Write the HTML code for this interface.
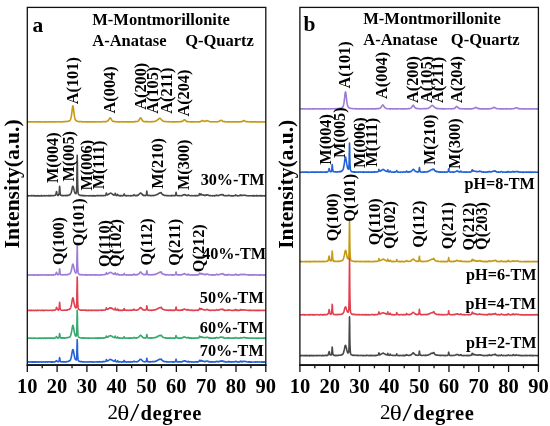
<!DOCTYPE html><html><head><meta charset="utf-8"><style>html,body{margin:0;padding:0;background:#fff;width:550px;height:426px;overflow:hidden}svg{display:block}text{font-family:"Liberation Serif", "Times New Roman", serif;font-weight:bold;fill:#000}</style></head><body>
<svg width="550" height="426" viewBox="0 0 550 426">
<rect width="550" height="426" fill="#fff"/>
<path d="M27.3,121.8 27.6,121.8 27.9,121.9 28.2,121.8 28.5,121.9 28.8,121.9 29.1,121.8 29.4,121.9 29.7,121.8 30.0,121.9 30.3,121.8 30.6,121.8 30.9,121.9 31.2,122.0 31.5,121.8 31.8,121.8 32.1,121.9 32.4,122.0 32.7,121.9 33.0,121.9 33.3,122.0 33.6,121.8 33.9,122.0 34.2,121.8 34.5,121.8 34.8,121.8 35.1,121.8 35.3,122.0 35.6,121.8 35.9,121.9 36.2,121.9 36.5,121.8 36.8,121.9 37.1,121.8 37.4,121.8 37.7,121.8 38.0,121.9 38.3,121.9 38.6,121.8 38.9,121.9 39.2,121.9 39.5,121.8 39.8,122.0 40.1,121.9 40.4,121.8 40.7,121.9 41.0,121.9 41.3,122.0 41.6,122.0 41.9,121.8 42.2,122.0 42.5,121.8 42.8,121.9 43.1,122.0 43.4,121.8 43.7,121.9 44.0,121.7 44.3,121.9 44.6,122.0 44.9,121.9 45.2,122.0 45.5,121.8 45.8,121.9 46.1,121.9 46.4,121.9 46.7,121.9 47.0,122.0 47.3,122.0 47.6,121.9 47.9,121.9 48.2,121.7 48.5,121.9 48.8,121.9 49.1,122.0 49.4,122.0 49.7,121.8 50.0,121.8 50.3,121.9 50.6,121.7 50.9,121.9 51.2,121.8 51.4,121.8 51.7,121.7 52.0,121.9 52.3,121.8 52.6,121.8 52.9,121.8 53.2,122.0 53.5,121.7 53.8,121.8 54.1,121.9 54.4,122.0 54.7,122.0 55.0,122.0 55.3,121.8 55.6,121.8 55.9,121.8 56.2,122.0 56.5,122.0 56.8,121.7 57.1,121.7 57.4,121.8 57.7,121.8 58.0,121.8 58.3,121.9 58.6,121.8 58.9,121.7 59.2,121.8 59.5,121.8 59.8,121.8 60.1,121.9 60.4,121.9 60.7,121.8 61.0,121.8 61.3,121.8 61.6,121.7 61.9,121.9 62.2,121.9 62.5,121.9 62.8,121.9 63.1,121.7 63.4,121.7 63.7,121.6 64.0,121.8 64.3,121.6 64.6,121.6 64.9,121.6 65.2,121.6 65.5,121.6 65.8,121.5 66.1,121.5 66.4,121.5 66.7,121.4 67.0,121.5 67.2,121.3 67.5,121.5 67.8,121.4 68.1,121.2 68.4,121.2 68.7,121.1 69.0,121.0 69.3,120.8 69.6,120.8 69.9,120.6 70.2,120.1 70.5,119.5 70.8,118.6 71.1,117.4 71.4,115.9 71.7,113.7 72.0,111.4 72.3,108.6 72.6,106.4 72.9,105.8 73.2,106.5 73.5,108.6 73.8,111.3 74.1,113.7 74.4,115.9 74.7,117.7 75.0,118.8 75.3,119.6 75.6,120.0 75.9,120.4 76.2,120.6 76.5,121.0 76.8,121.1 77.1,121.2 77.4,121.2 77.7,121.2 78.0,121.5 78.3,121.6 78.6,121.6 78.9,121.6 79.2,121.6 79.5,121.7 79.8,121.5 80.1,121.6 80.4,121.6 80.7,121.5 81.0,121.5 81.3,121.6 81.6,121.6 81.9,121.8 82.2,121.9 82.5,121.7 82.8,121.9 83.0,121.9 83.3,121.9 83.6,121.7 83.9,121.7 84.2,121.7 84.5,121.7 84.8,121.7 85.1,121.8 85.4,121.9 85.7,121.9 86.0,121.8 86.3,121.9 86.6,121.9 86.9,121.7 87.2,121.9 87.5,121.9 87.8,121.9 88.1,121.9 88.4,121.8 88.7,121.7 89.0,121.9 89.3,121.8 89.6,121.9 89.9,122.0 90.2,121.8 90.5,121.8 90.8,122.0 91.1,121.9 91.4,121.7 91.7,121.7 92.0,121.7 92.3,122.0 92.6,121.9 92.9,121.7 93.2,121.9 93.5,122.0 93.8,121.9 94.1,121.8 94.4,121.9 94.7,121.7 95.0,121.7 95.3,122.0 95.6,121.9 95.9,121.9 96.2,122.0 96.5,121.8 96.8,122.0 97.1,121.9 97.4,121.8 97.7,121.8 98.0,121.8 98.3,121.8 98.6,121.9 98.8,121.8 99.1,121.8 99.4,121.7 99.7,121.9 100.0,121.8 100.3,121.8 100.6,121.8 100.9,121.9 101.2,121.8 101.5,121.9 101.8,121.8 102.1,121.8 102.4,121.8 102.7,121.6 103.0,121.8 103.3,121.7 103.6,121.6 103.9,121.8 104.2,121.6 104.5,121.7 104.8,121.8 105.1,121.7 105.4,121.6 105.7,121.6 106.0,121.6 106.3,121.6 106.6,121.4 106.9,121.4 107.2,121.2 107.5,121.1 107.8,121.0 108.1,120.7 108.4,120.3 108.7,120.0 109.0,119.5 109.3,118.9 109.6,118.4 109.9,118.0 110.2,117.9 110.5,118.1 110.8,118.4 111.1,118.9 111.4,119.4 111.7,120.0 112.0,120.4 112.3,120.8 112.6,121.1 112.9,121.1 113.2,121.3 113.5,121.5 113.8,121.6 114.1,121.4 114.4,121.5 114.7,121.6 114.9,121.5 115.2,121.6 115.5,121.6 115.8,121.8 116.1,121.8 116.4,121.9 116.7,121.7 117.0,121.8 117.3,121.8 117.6,121.7 117.9,121.9 118.2,121.9 118.5,121.7 118.8,121.9 119.1,121.8 119.4,121.8 119.7,122.0 120.0,121.9 120.3,121.7 120.6,121.8 120.9,121.8 121.2,121.8 121.5,121.7 121.8,121.8 122.1,121.9 122.4,121.7 122.7,121.9 123.0,121.8 123.3,121.7 123.6,121.8 123.9,121.9 124.2,121.8 124.5,121.7 124.8,122.0 125.1,121.9 125.4,122.0 125.7,121.7 126.0,121.8 126.3,121.7 126.6,121.9 126.9,121.8 127.2,121.7 127.5,121.8 127.8,122.0 128.1,121.9 128.4,121.8 128.7,121.7 129.0,122.0 129.3,121.9 129.6,121.9 129.9,121.7 130.2,121.7 130.5,121.9 130.7,121.8 131.0,121.7 131.3,122.0 131.6,121.9 131.9,121.9 132.2,121.7 132.5,121.9 132.8,121.7 133.1,121.9 133.4,121.8 133.7,121.7 134.0,121.8 134.3,121.9 134.6,121.7 134.9,121.6 135.2,121.7 135.5,121.6 135.8,121.6 136.1,121.6 136.4,121.5 136.7,121.5 137.0,121.5 137.3,121.4 137.6,121.5 137.9,121.2 138.2,121.1 138.5,120.8 138.8,120.5 139.1,120.0 139.4,119.5 139.7,118.9 140.0,118.5 140.3,118.0 140.6,117.8 140.9,118.0 141.2,118.6 141.5,118.9 141.8,119.7 142.1,120.1 142.4,120.5 142.7,121.0 143.0,121.1 143.3,121.3 143.6,121.4 143.9,121.6 144.2,121.5 144.5,121.7 144.8,121.7 145.1,121.7 145.4,121.6 145.7,121.6 146.0,121.6 146.3,121.6 146.6,121.6 146.8,121.8 147.1,121.7 147.4,121.6 147.7,121.6 148.0,121.8 148.3,121.9 148.6,121.8 148.9,121.7 149.2,121.7 149.5,121.7 149.8,121.7 150.1,121.6 150.4,121.7 150.7,121.7 151.0,121.9 151.3,121.9 151.6,121.7 151.9,121.6 152.2,121.8 152.5,121.6 152.8,121.6 153.1,121.5 153.4,121.6 153.7,121.6 154.0,121.6 154.3,121.4 154.6,121.5 154.9,121.3 155.2,121.3 155.5,121.1 155.8,121.1 156.1,120.9 156.4,120.7 156.7,120.6 157.0,120.4 157.3,120.2 157.6,119.9 157.9,119.7 158.2,119.4 158.5,119.1 158.8,118.8 159.1,118.5 159.4,118.3 159.7,118.4 160.0,118.2 160.3,118.6 160.6,118.8 160.9,118.9 161.2,119.4 161.5,119.8 161.8,120.0 162.1,120.3 162.4,120.6 162.6,120.6 162.9,120.9 163.2,121.0 163.5,121.3 163.8,121.4 164.1,121.5 164.4,121.5 164.7,121.6 165.0,121.6 165.3,121.6 165.6,121.5 165.9,121.5 166.2,121.5 166.5,121.6 166.8,121.6 167.1,121.8 167.4,121.7 167.7,121.8 168.0,121.8 168.3,121.8 168.6,121.7 168.9,121.6 169.2,121.9 169.5,121.8 169.8,121.8 170.1,121.8 170.4,121.8 170.7,121.7 171.0,121.9 171.3,121.7 171.6,121.7 171.9,121.7 172.2,121.9 172.5,121.7 172.8,121.9 173.1,122.0 173.4,121.8 173.7,121.8 174.0,121.8 174.3,121.9 174.6,121.9 174.9,121.9 175.2,121.9 175.5,121.7 175.8,121.7 176.1,121.7 176.4,121.9 176.7,121.8 177.0,121.8 177.3,121.7 177.6,121.7 177.9,121.7 178.2,121.9 178.4,121.9 178.7,121.8 179.0,121.7 179.3,121.8 179.6,121.8 179.9,121.7 180.2,121.6 180.5,121.8 180.8,121.6 181.1,121.8 181.4,121.7 181.7,121.4 182.0,121.4 182.3,121.4 182.6,121.3 182.9,120.9 183.2,120.6 183.5,120.2 183.8,120.1 184.1,119.7 184.4,119.7 184.7,119.7 185.0,120.0 185.3,120.4 185.6,120.5 185.9,121.0 186.2,121.1 186.5,121.4 186.8,121.5 187.1,121.5 187.4,121.7 187.7,121.7 188.0,121.6 188.3,121.6 188.6,121.7 188.9,121.7 189.2,121.7 189.5,121.7 189.8,121.7 190.1,121.7 190.4,121.9 190.7,121.7 191.0,121.9 191.3,121.9 191.6,121.7 191.9,122.0 192.2,121.9 192.5,121.9 192.8,121.8 193.1,121.8 193.4,121.8 193.7,122.0 194.0,121.9 194.2,121.8 194.5,121.8 194.8,121.8 195.1,121.7 195.4,121.7 195.7,121.9 196.0,121.8 196.3,122.0 196.6,121.7 196.9,121.7 197.2,121.8 197.5,121.7 197.8,121.8 198.1,121.9 198.4,121.9 198.7,121.9 199.0,121.8 199.3,121.9 199.6,121.8 199.9,121.7 200.2,121.7 200.5,121.4 200.8,121.5 201.1,121.3 201.4,121.2 201.7,121.0 202.0,120.7 202.3,120.5 202.6,120.7 202.9,120.5 203.2,120.8 203.5,120.9 203.8,121.0 204.1,121.3 204.4,121.4 204.7,121.3 205.0,121.4 205.3,121.2 205.6,121.2 205.9,121.1 206.2,120.8 206.5,120.7 206.8,120.6 207.1,120.7 207.4,120.7 207.7,120.7 208.0,121.1 208.3,121.3 208.6,121.3 208.9,121.3 209.2,121.5 209.5,121.5 209.8,121.6 210.1,121.6 210.3,121.7 210.6,121.7 210.9,121.8 211.2,121.9 211.5,121.9 211.8,121.8 212.1,121.8 212.4,121.8 212.7,121.8 213.0,121.8 213.3,121.7 213.6,121.7 213.9,122.0 214.2,121.7 214.5,121.8 214.8,121.8 215.1,121.9 215.4,121.7 215.7,121.7 216.0,121.7 216.3,121.8 216.6,121.8 216.9,121.9 217.2,121.8 217.5,121.8 217.8,121.5 218.1,121.5 218.4,121.6 218.7,121.6 219.0,121.4 219.3,121.3 219.6,120.9 219.9,120.8 220.2,120.8 220.5,120.6 220.8,120.4 221.1,120.4 221.4,120.3 221.7,120.4 222.0,120.6 222.3,120.9 222.6,121.1 222.9,121.4 223.2,121.5 223.5,121.5 223.8,121.7 224.1,121.6 224.4,121.7 224.7,121.6 225.0,121.8 225.3,121.7 225.6,121.9 225.9,121.8 226.1,121.7 226.4,121.7 226.7,121.7 227.0,121.9 227.3,121.9 227.6,121.7 227.9,121.7 228.2,121.9 228.5,121.9 228.8,121.8 229.1,121.8 229.4,121.9 229.7,121.7 230.0,121.8 230.3,121.8 230.6,122.0 230.9,121.9 231.2,122.0 231.5,121.9 231.8,121.8 232.1,121.8 232.4,122.0 232.7,121.9 233.0,121.8 233.3,121.7 233.6,121.9 233.9,121.9 234.2,121.8 234.5,121.8 234.8,121.9 235.1,122.0 235.4,121.8 235.7,121.7 236.0,121.8 236.3,121.8 236.6,121.9 236.9,121.8 237.2,121.9 237.5,121.9 237.8,121.8 238.1,121.8 238.4,122.0 238.7,121.8 239.0,121.9 239.3,121.7 239.6,121.7 239.9,121.9 240.2,121.7 240.5,121.9 240.8,121.7 241.1,121.6 241.4,121.6 241.7,121.6 242.0,121.6 242.2,121.6 242.5,121.2 242.8,121.1 243.1,120.9 243.4,121.0 243.7,120.6 244.0,120.6 244.3,120.6 244.6,120.8 244.9,121.1 245.2,121.3 245.5,121.4 245.8,121.6 246.1,121.7 246.4,121.6 246.7,121.6 247.0,121.8 247.3,121.8 247.6,121.6 247.9,121.8 248.2,121.8 248.5,121.8 248.8,121.8 249.1,121.7 249.4,121.7 249.7,121.8 250.0,121.8 250.3,122.0 250.6,121.7 250.9,122.0 251.2,121.8 251.5,121.8 251.8,122.0 252.1,122.0 252.4,121.9 252.7,121.7 253.0,121.9 253.3,121.8 253.6,122.0 253.9,121.8 254.2,121.8 254.5,122.0 254.8,121.7 255.1,121.9 255.4,122.0 255.7,122.0 256.0,121.7 256.3,121.7 256.6,121.8 256.9,122.0 257.2,121.8 257.5,122.0 257.8,122.0 258.0,121.8 258.3,121.8 258.6,122.0 258.9,121.9 259.2,121.8 259.5,122.0 259.8,121.8 260.1,121.8 260.4,121.7 260.7,122.0 261.0,122.0 261.3,121.9 261.6,122.0 261.9,121.7 262.2,121.8 262.5,121.9 262.8,122.0 263.1,122.0 263.4,121.9 263.7,121.8 264.0,121.9 264.3,121.9 264.6,122.0 264.9,121.8 265.2,122.0 265.5,122.0 265.8,122.0" fill="none" stroke="#c49a14" stroke-width="1.6" stroke-linejoin="round"/>
<path d="M27.3,195.7 27.6,196.0 27.9,195.6 28.2,195.9 28.5,195.6 28.8,195.7 29.1,196.0 29.4,195.7 29.7,195.8 30.0,195.8 30.3,195.8 30.6,195.8 30.9,195.7 31.2,195.9 31.5,195.6 31.8,195.7 32.1,195.6 32.4,195.7 32.7,195.8 33.0,195.9 33.3,195.7 33.6,195.6 33.9,195.7 34.2,196.0 34.5,195.6 34.8,195.8 35.1,195.7 35.3,195.9 35.6,195.7 35.9,195.9 36.2,195.8 36.5,195.8 36.8,195.9 37.1,195.8 37.4,195.6 37.7,195.6 38.0,196.0 38.3,195.8 38.6,195.7 38.9,196.0 39.2,195.8 39.5,195.9 39.8,195.9 40.1,195.7 40.4,195.7 40.7,195.9 41.0,195.6 41.3,195.9 41.6,195.6 41.9,195.9 42.2,195.9 42.5,196.0 42.8,195.9 43.1,195.8 43.4,195.7 43.7,195.6 44.0,195.8 44.3,195.8 44.6,195.6 44.9,195.9 45.2,195.8 45.5,195.9 45.8,195.7 46.1,195.7 46.4,195.6 46.7,195.7 47.0,195.7 47.3,195.7 47.6,195.7 47.9,195.9 48.2,195.9 48.5,195.6 48.8,195.7 49.1,195.6 49.4,195.8 49.7,195.9 50.0,195.6 50.3,195.9 50.6,195.7 50.9,195.5 51.2,195.8 51.4,195.7 51.7,195.6 52.0,195.7 52.3,195.6 52.6,195.7 52.9,195.7 53.2,195.7 53.5,195.7 53.8,195.6 54.1,195.5 54.4,195.4 54.7,195.4 55.0,195.5 55.3,195.2 55.6,195.0 55.9,194.0 56.0,193.8 56.2,192.8 56.3,192.3 56.5,191.5 56.8,192.3 56.8,192.5 57.0,193.7 57.1,194.1 57.4,194.7 57.7,195.3 58.0,195.1 58.3,195.4 58.6,195.0 58.9,194.7 59.2,192.4 59.3,191.1 59.5,188.0 59.5,187.8 59.6,186.2 59.8,187.5 59.8,188.1 60.0,190.9 60.1,192.5 60.4,194.7 60.7,195.2 61.0,195.4 61.3,195.3 61.6,195.4 61.9,195.6 62.2,195.6 62.5,195.4 62.8,195.6 63.1,195.7 63.4,195.7 63.7,195.6 64.0,195.6 64.3,195.6 64.6,195.5 64.9,195.5 65.2,195.6 65.5,195.4 65.8,195.6 66.1,195.6 66.4,195.6 66.7,195.3 67.0,195.4 67.2,195.4 67.5,195.3 67.8,195.6 68.1,195.4 68.4,195.3 68.7,195.3 69.0,195.0 69.3,194.9 69.6,194.9 69.9,194.8 70.2,194.4 70.5,193.7 70.8,193.4 71.1,192.7 71.4,191.7 71.7,190.5 72.0,189.2 72.3,187.5 72.6,186.5 72.9,186.2 73.2,186.7 73.5,187.5 73.8,189.0 74.1,190.3 74.4,191.4 74.7,192.3 75.0,193.2 75.3,193.5 75.6,193.6 75.9,193.7 76.2,193.0 76.5,191.5 76.8,184.6 76.9,175.3 77.1,162.5 77.2,155.2 77.4,162.7 77.5,175.5 77.7,184.7 78.0,192.1 78.3,193.7 78.6,194.5 78.9,194.8 79.2,194.9 79.5,195.1 79.8,195.2 80.1,195.3 80.4,195.5 80.7,195.3 81.0,195.3 81.3,195.6 81.6,195.4 81.9,195.5 82.2,195.4 82.5,195.7 82.8,195.5 83.0,195.5 83.3,195.8 83.6,195.6 83.9,195.6 84.2,195.8 84.5,195.6 84.8,195.6 85.1,195.9 85.4,195.8 85.7,195.8 86.0,195.6 86.3,195.8 86.6,195.7 86.9,195.8 87.2,195.7 87.5,195.8 87.8,195.8 88.1,195.7 88.4,195.8 88.7,195.8 89.0,195.9 89.3,195.9 89.6,195.8 89.9,195.6 90.2,195.8 90.5,195.8 90.8,195.6 91.1,195.7 91.4,195.9 91.7,195.9 92.0,195.9 92.3,195.6 92.6,195.8 92.9,195.9 93.2,195.8 93.5,195.7 93.8,195.5 94.1,195.9 94.4,195.9 94.7,195.8 95.0,195.7 95.3,195.9 95.6,195.9 95.9,195.8 96.2,195.8 96.5,195.7 96.8,195.6 97.1,195.7 97.4,195.6 97.7,195.7 98.0,195.6 98.3,195.8 98.6,195.6 98.8,195.6 99.1,195.6 99.4,195.7 99.7,195.7 100.0,195.8 100.3,195.5 100.6,195.6 100.9,195.6 101.2,195.5 101.5,195.8 101.8,195.5 102.1,195.5 102.4,195.7 102.7,195.7 103.0,195.7 103.3,195.6 103.6,195.5 103.9,195.7 104.2,195.6 104.5,195.5 104.8,195.5 105.1,195.6 105.4,195.5 105.7,195.3 106.0,194.1 106.2,193.4 106.3,193.0 106.5,193.3 106.6,194.2 106.9,194.6 107.2,195.0 107.5,194.8 107.8,194.7 108.1,194.4 108.4,194.4 108.7,194.1 109.0,194.0 109.3,193.8 109.6,193.5 109.9,193.5 110.2,193.2 110.5,193.1 110.8,193.3 111.1,193.3 111.4,193.4 111.7,193.7 112.0,193.8 112.3,193.9 112.6,194.4 112.9,194.5 113.2,194.8 113.5,194.8 113.8,195.1 114.1,194.9 114.4,194.9 114.7,195.0 114.9,194.4 115.1,193.9 115.2,193.4 115.4,193.6 115.5,194.4 115.8,195.0 116.1,195.3 116.4,195.6 116.7,195.4 117.0,195.5 117.3,195.0 117.6,194.3 117.9,195.1 118.2,195.3 118.5,195.4 118.8,195.6 119.1,195.5 119.4,195.8 119.7,195.6 120.0,195.7 120.3,195.9 120.6,195.5 120.9,195.9 121.2,195.5 121.5,195.7 121.8,195.7 122.1,195.9 122.4,195.6 122.7,195.8 123.0,195.7 123.3,195.6 123.6,195.3 123.9,194.7 124.0,194.2 124.2,193.9 124.3,194.2 124.5,194.9 124.8,195.4 125.1,195.7 125.4,195.5 125.7,195.5 126.0,195.8 126.3,195.9 126.6,195.6 126.9,195.5 127.2,195.6 127.5,195.7 127.8,195.7 128.1,195.7 128.4,195.6 128.7,195.8 129.0,195.8 129.3,195.8 129.6,195.8 129.9,195.8 130.2,195.6 130.5,195.8 130.7,195.6 131.0,195.9 131.3,195.7 131.6,195.7 131.9,195.7 132.2,195.7 132.5,195.6 132.8,195.7 133.1,195.7 133.4,195.4 133.7,195.1 134.0,194.7 134.3,195.0 134.6,195.4 134.9,195.6 135.2,195.7 135.5,195.5 135.8,195.4 136.1,195.7 136.4,195.4 136.7,195.6 137.0,195.6 137.3,195.3 137.6,195.4 137.9,195.1 138.2,195.2 138.5,194.8 138.8,194.5 139.1,194.2 139.4,194.1 139.7,193.5 140.0,193.2 140.3,193.2 140.6,193.0 140.9,193.1 141.2,193.3 141.5,193.7 141.8,193.8 142.1,194.5 142.4,194.6 142.7,195.0 143.0,195.0 143.3,195.4 143.6,195.1 143.9,195.6 144.2,195.3 144.5,195.5 144.8,195.5 145.1,195.7 145.4,195.6 145.7,195.6 146.0,195.5 146.3,194.9 146.6,193.2 146.7,191.7 146.8,191.1 147.0,192.1 147.1,193.4 147.4,194.9 147.7,195.4 148.0,195.5 148.3,195.4 148.6,195.6 148.9,195.5 149.2,195.4 149.5,195.4 149.8,195.6 150.1,195.7 150.4,195.5 150.7,195.6 151.0,195.7 151.3,195.5 151.6,195.6 151.9,195.6 152.2,195.5 152.5,195.4 152.8,195.6 153.1,195.6 153.4,195.4 153.7,195.6 154.0,195.5 154.3,195.5 154.6,195.4 154.9,195.3 155.2,195.3 155.5,195.0 155.8,195.1 156.1,194.7 156.4,194.7 156.7,194.6 157.0,194.6 157.3,194.4 157.6,194.3 157.9,194.1 158.2,193.9 158.5,193.6 158.8,193.4 159.1,193.2 159.4,193.1 159.7,193.2 160.0,193.2 160.3,193.0 160.6,192.9 160.9,192.6 161.2,192.6 161.5,193.1 161.8,193.6 162.1,194.2 162.4,194.4 162.6,194.5 162.9,194.7 163.2,195.1 163.5,194.9 163.8,195.0 164.1,195.2 164.4,195.4 164.7,195.5 165.0,195.4 165.3,195.5 165.6,195.3 165.9,195.5 166.2,195.7 166.5,195.6 166.8,195.6 167.1,195.6 167.4,195.6 167.7,195.6 168.0,195.8 168.3,195.8 168.6,195.5 168.9,195.8 169.2,195.8 169.5,195.7 169.8,195.7 170.1,195.6 170.4,195.7 170.7,195.7 171.0,195.7 171.3,195.5 171.6,195.9 171.9,195.6 172.2,195.7 172.5,195.6 172.8,195.7 173.1,195.5 173.4,195.6 173.7,195.6 174.0,195.6 174.3,195.7 174.6,195.5 174.9,195.6 175.2,195.6 175.5,195.3 175.8,194.2 175.9,193.1 176.1,192.3 176.2,192.9 176.4,194.1 176.7,195.4 177.0,195.5 177.3,195.7 177.6,195.7 177.9,195.7 178.2,195.7 178.4,195.6 178.7,195.7 179.0,195.7 179.3,195.8 179.6,195.5 179.9,195.5 180.2,195.8 180.5,195.7 180.8,195.7 181.1,195.8 181.4,195.7 181.7,195.6 182.0,195.7 182.3,195.4 182.6,195.3 182.9,195.0 183.2,194.9 183.5,195.0 183.8,194.9 184.1,194.5 184.4,194.6 184.7,194.7 185.0,194.7 185.3,194.8 185.6,195.2 185.9,195.2 186.2,195.4 186.5,195.4 186.8,195.4 187.1,195.6 187.4,195.4 187.7,195.4 188.0,195.1 188.3,194.9 188.6,195.0 188.9,195.3 189.2,195.4 189.5,195.5 189.8,195.5 190.1,195.7 190.4,195.7 190.7,195.8 191.0,195.7 191.3,195.8 191.6,195.5 191.9,195.7 192.2,195.6 192.5,195.7 192.8,195.8 193.1,195.8 193.4,195.7 193.7,195.7 194.0,195.7 194.2,195.6 194.5,195.6 194.8,195.7 195.1,195.8 195.4,195.6 195.7,195.9 196.0,195.5 196.3,195.6 196.6,195.7 196.9,195.6 197.2,195.7 197.5,195.7 197.8,195.7 198.1,195.7 198.4,195.5 198.7,195.5 199.0,195.0 199.2,194.5 199.3,194.0 199.4,193.9 199.6,193.6 199.8,193.8 199.9,194.1 200.1,194.5 200.2,194.9 200.5,194.7 200.8,194.6 201.1,193.9 201.4,194.5 201.7,194.9 202.0,194.8 202.3,195.0 202.6,194.8 202.9,194.9 203.2,195.1 203.5,195.2 203.8,195.1 204.1,195.1 204.4,195.5 204.7,195.4 205.0,195.5 205.3,195.2 205.6,195.4 205.9,195.0 206.2,194.9 206.5,194.9 206.8,195.1 207.1,194.9 207.4,194.9 207.7,194.9 208.0,195.0 208.3,195.2 208.6,195.3 208.9,195.4 209.2,195.6 209.5,195.5 209.8,195.8 210.1,195.8 210.3,195.7 210.6,195.5 210.9,195.7 211.2,195.7 211.5,195.8 211.8,195.7 212.1,195.8 212.4,195.9 212.7,195.8 213.0,195.5 213.3,195.8 213.6,195.8 213.9,195.7 214.2,195.9 214.5,195.5 214.8,195.5 215.1,195.8 215.4,195.5 215.7,195.5 216.0,195.6 216.3,195.1 216.6,195.1 216.9,195.3 217.2,195.5 217.5,195.5 217.8,195.4 218.1,195.7 218.4,195.6 218.7,195.6 219.0,195.4 219.3,195.2 219.6,195.2 219.9,195.0 220.2,194.8 220.5,194.7 220.8,194.7 221.1,194.6 221.4,194.7 221.7,195.0 222.0,195.0 222.3,195.0 222.6,194.6 222.9,194.6 223.2,194.7 223.5,195.2 223.8,195.6 224.1,195.6 224.4,195.8 224.7,195.7 225.0,195.6 225.3,195.5 225.6,195.6 225.9,195.8 226.1,195.7 226.4,195.8 226.7,195.8 227.0,195.6 227.3,195.6 227.6,195.8 227.9,195.7 228.2,195.4 228.5,195.4 228.8,195.2 229.1,195.4 229.4,195.4 229.7,195.6 230.0,195.8 230.3,195.8 230.6,195.7 230.9,195.9 231.2,195.7 231.5,195.9 231.8,195.6 232.1,195.7 232.4,195.9 232.7,195.8 233.0,195.9 233.3,195.9 233.6,195.8 233.9,195.8 234.2,195.8 234.5,195.7 234.8,195.8 235.1,195.6 235.4,194.9 235.7,194.8 236.0,195.3 236.3,195.3 236.6,195.4 236.9,195.7 237.2,195.8 237.5,195.9 237.8,195.9 238.1,195.8 238.4,195.8 238.7,195.7 239.0,195.8 239.3,195.7 239.6,195.5 239.9,195.5 240.2,195.0 240.5,194.8 240.8,195.0 241.1,195.6 241.4,195.4 241.7,195.5 242.0,195.5 242.2,195.3 242.5,195.4 242.8,195.3 243.1,195.4 243.4,195.3 243.7,195.2 244.0,195.3 244.3,195.2 244.6,195.3 244.9,195.1 245.2,195.3 245.5,195.4 245.8,195.6 246.1,195.5 246.4,195.5 246.7,195.7 247.0,195.8 247.3,195.8 247.6,195.8 247.9,195.8 248.2,195.9 248.5,195.8 248.8,195.7 249.1,195.7 249.4,195.7 249.7,195.7 250.0,195.8 250.3,195.9 250.6,195.7 250.9,195.7 251.2,195.7 251.5,195.8 251.8,195.6 252.1,195.8 252.4,195.9 252.7,195.9 253.0,195.7 253.3,195.6 253.6,195.9 253.9,195.9 254.2,195.7 254.5,195.6 254.8,195.9 255.1,195.7 255.4,195.8 255.7,195.8 256.0,195.9 256.3,195.6 256.6,195.7 256.9,195.6 257.2,195.9 257.5,195.6 257.8,195.9 258.0,195.8 258.3,195.8 258.6,195.7 258.9,195.9 259.2,195.6 259.5,195.8 259.8,195.9 260.1,195.9 260.4,195.6 260.7,195.6 261.0,195.7 261.3,195.9 261.6,195.6 261.9,196.0 262.2,195.9 262.5,195.8 262.8,195.9 263.1,195.8 263.4,195.7 263.7,195.8 264.0,195.6 264.3,195.8 264.6,196.0 264.9,195.8 265.2,195.9 265.5,195.7 265.8,195.9" fill="none" stroke="#484848" stroke-width="1.6" stroke-linejoin="round"/>
<path d="M27.3,275.0 27.6,274.9 27.9,274.8 28.2,275.1 28.5,274.8 28.8,275.0 29.1,275.1 29.4,274.8 29.7,275.0 30.0,275.0 30.3,274.8 30.6,274.9 30.9,275.1 31.2,275.0 31.5,275.1 31.8,274.9 32.1,274.9 32.4,274.8 32.7,275.0 33.0,275.2 33.3,275.0 33.6,275.1 33.9,274.9 34.2,275.1 34.5,274.8 34.8,274.9 35.1,275.1 35.3,275.1 35.6,275.0 35.9,274.8 36.2,274.9 36.5,274.9 36.8,274.9 37.1,275.1 37.4,274.9 37.7,275.1 38.0,275.1 38.3,274.8 38.6,274.9 38.9,275.0 39.2,274.8 39.5,275.0 39.8,275.1 40.1,274.8 40.4,275.0 40.7,274.8 41.0,275.0 41.3,275.1 41.6,274.9 41.9,274.8 42.2,274.8 42.5,275.0 42.8,274.8 43.1,274.8 43.4,275.0 43.7,275.1 44.0,274.9 44.3,274.9 44.6,275.0 44.9,274.8 45.2,275.0 45.5,274.8 45.8,275.0 46.1,275.2 46.4,274.8 46.7,275.0 47.0,275.0 47.3,274.8 47.6,274.9 47.9,275.2 48.2,275.2 48.5,274.8 48.8,275.0 49.1,275.1 49.4,274.9 49.7,275.0 50.0,274.8 50.3,274.9 50.6,275.0 50.9,275.0 51.2,275.1 51.4,274.8 51.7,274.9 52.0,275.1 52.3,275.0 52.6,274.9 52.9,274.9 53.2,275.1 53.5,274.9 53.8,274.7 54.1,275.0 54.4,274.8 54.7,274.8 55.0,274.7 55.3,274.6 55.6,274.3 55.9,273.7 56.0,273.7 56.2,272.8 56.3,273.0 56.5,272.2 56.8,273.0 56.8,273.1 57.0,273.6 57.1,273.9 57.4,274.3 57.7,274.7 58.0,274.6 58.3,274.5 58.6,274.7 58.9,274.2 59.2,272.9 59.3,272.0 59.5,269.9 59.5,269.9 59.6,268.8 59.8,270.0 59.8,269.9 60.0,271.7 60.1,273.2 60.4,274.1 60.7,274.7 61.0,274.9 61.3,274.8 61.6,274.6 61.9,274.6 62.2,274.7 62.5,274.8 62.8,274.9 63.1,275.0 63.4,274.8 63.7,274.7 64.0,274.8 64.3,274.7 64.6,274.6 64.9,274.8 65.2,274.9 65.5,274.6 65.8,274.7 66.1,274.8 66.4,274.8 66.7,274.6 67.0,274.8 67.2,274.5 67.5,274.7 67.8,274.7 68.1,274.6 68.4,274.4 68.7,274.2 69.0,274.1 69.3,274.1 69.6,273.8 69.9,273.8 70.2,273.2 70.5,273.0 70.8,272.1 71.1,271.2 71.4,270.1 71.7,268.8 72.0,267.3 72.3,265.7 72.6,264.4 72.9,264.1 73.2,264.7 73.5,265.7 73.8,267.4 74.1,268.5 74.4,270.3 74.7,271.3 75.0,272.0 75.3,272.6 75.6,272.9 75.9,273.1 76.2,272.5 76.5,271.7 76.8,266.6 76.9,260.0 77.1,251.2 77.2,246.0 77.4,251.0 77.5,260.3 77.7,266.8 78.0,272.0 78.3,273.4 78.6,273.7 78.9,274.2 79.2,274.3 79.5,274.6 79.8,274.4 80.1,274.7 80.4,274.7 80.7,274.7 81.0,274.9 81.3,274.5 81.6,274.8 81.9,274.8 82.2,274.9 82.5,274.8 82.8,274.6 83.0,274.7 83.3,274.9 83.6,274.7 83.9,274.7 84.2,274.8 84.5,274.9 84.8,274.9 85.1,274.7 85.4,275.0 85.7,274.8 86.0,275.0 86.3,274.7 86.6,275.1 86.9,274.9 87.2,275.1 87.5,275.1 87.8,275.0 88.1,274.8 88.4,274.9 88.7,274.8 89.0,275.0 89.3,274.8 89.6,274.8 89.9,274.8 90.2,274.8 90.5,275.1 90.8,275.1 91.1,274.9 91.4,275.0 91.7,274.9 92.0,274.9 92.3,274.9 92.6,275.0 92.9,274.8 93.2,274.8 93.5,274.9 93.8,274.8 94.1,274.9 94.4,275.1 94.7,274.7 95.0,274.8 95.3,275.0 95.6,274.7 95.9,274.8 96.2,275.1 96.5,275.0 96.8,274.8 97.1,274.7 97.4,274.8 97.7,274.8 98.0,275.0 98.3,275.1 98.6,275.0 98.8,275.1 99.1,275.1 99.4,275.1 99.7,275.1 100.0,275.1 100.3,274.7 100.6,274.8 100.9,274.8 101.2,274.9 101.5,274.9 101.8,274.8 102.1,275.0 102.4,274.8 102.7,274.7 103.0,274.7 103.3,274.8 103.6,274.8 103.9,274.8 104.2,274.7 104.5,274.6 104.8,274.6 105.1,274.5 105.4,274.4 105.7,274.3 106.0,273.4 106.2,273.0 106.3,272.6 106.5,272.7 106.6,273.4 106.9,273.9 107.2,274.0 107.5,274.0 107.8,273.9 108.1,273.8 108.4,273.6 108.7,273.1 109.0,273.1 109.3,272.8 109.6,272.5 109.9,272.5 110.2,272.4 110.5,272.5 110.8,272.3 111.1,272.6 111.4,272.7 111.7,272.7 112.0,273.1 112.3,273.2 112.6,273.5 112.9,273.5 113.2,273.6 113.5,274.2 113.8,273.9 114.1,274.1 114.4,274.1 114.7,274.0 114.9,273.8 115.1,273.3 115.2,272.8 115.4,273.1 115.5,273.9 115.8,274.4 116.1,274.4 116.4,274.7 116.7,274.6 117.0,274.5 117.3,274.2 117.6,273.7 117.9,274.1 118.2,274.7 118.5,274.9 118.8,274.8 119.1,274.6 119.4,274.9 119.7,274.7 120.0,274.9 120.3,275.0 120.6,274.9 120.9,275.0 121.2,275.0 121.5,274.8 121.8,274.7 122.1,274.9 122.4,275.0 122.7,274.8 123.0,274.8 123.3,274.9 123.6,274.6 123.9,274.1 124.0,273.6 124.2,273.5 124.3,273.4 124.5,274.0 124.8,274.8 125.1,274.9 125.4,274.7 125.7,274.7 126.0,274.8 126.3,274.9 126.6,275.1 126.9,274.8 127.2,274.8 127.5,275.0 127.8,274.9 128.1,275.1 128.4,275.1 128.7,275.1 129.0,275.0 129.3,274.9 129.6,274.7 129.9,275.0 130.2,274.9 130.5,274.9 130.7,275.0 131.0,275.1 131.3,274.9 131.6,275.1 131.9,275.1 132.2,274.7 132.5,274.8 132.8,275.0 133.1,274.9 133.4,274.9 133.7,274.2 134.0,274.0 134.3,274.5 134.6,274.7 134.9,274.8 135.2,275.0 135.5,274.7 135.8,274.6 136.1,274.9 136.4,274.8 136.7,274.6 137.0,274.8 137.3,274.5 137.6,274.4 137.9,274.4 138.2,274.1 138.5,274.1 138.8,274.0 139.1,273.5 139.4,273.4 139.7,272.7 140.0,272.4 140.3,272.1 140.6,272.2 140.9,272.1 141.2,272.6 141.5,272.8 141.8,273.2 142.1,273.7 142.4,274.0 142.7,274.2 143.0,274.1 143.3,274.4 143.6,274.7 143.9,274.5 144.2,274.6 144.5,274.7 144.8,274.6 145.1,274.8 145.4,274.7 145.7,274.5 146.0,274.7 146.3,274.2 146.6,272.7 146.7,271.5 146.8,270.9 147.0,271.4 147.1,272.6 147.4,274.1 147.7,274.4 148.0,274.7 148.3,274.7 148.6,274.9 148.9,274.7 149.2,274.6 149.5,274.8 149.8,274.7 150.1,274.7 150.4,274.7 150.7,274.7 151.0,274.9 151.3,275.0 151.6,274.7 151.9,274.8 152.2,274.7 152.5,274.9 152.8,274.8 153.1,274.5 153.4,274.8 153.7,274.5 154.0,274.4 154.3,274.4 154.6,274.7 154.9,274.6 155.2,274.3 155.5,274.3 155.8,274.3 156.1,273.9 156.4,274.1 156.7,273.9 157.0,273.8 157.3,273.3 157.6,273.3 157.9,273.1 158.2,273.1 158.5,272.7 158.8,272.7 159.1,272.6 159.4,272.3 159.7,272.3 160.0,272.5 160.3,272.1 160.6,272.4 160.9,271.9 161.2,271.8 161.5,272.3 161.8,273.1 162.1,273.4 162.4,273.7 162.6,273.6 162.9,274.1 163.2,274.2 163.5,274.3 163.8,274.2 164.1,274.3 164.4,274.5 164.7,274.4 165.0,274.8 165.3,274.6 165.6,274.9 165.9,274.6 166.2,274.8 166.5,274.9 166.8,274.8 167.1,274.8 167.4,274.6 167.7,274.8 168.0,274.8 168.3,275.0 168.6,275.0 168.9,275.0 169.2,275.1 169.5,274.7 169.8,274.7 170.1,274.8 170.4,274.7 170.7,274.7 171.0,274.9 171.3,274.8 171.6,274.9 171.9,274.8 172.2,274.8 172.5,275.1 172.8,274.8 173.1,275.0 173.4,274.9 173.7,275.0 174.0,274.7 174.3,275.0 174.6,275.0 174.9,274.7 175.2,274.7 175.5,274.5 175.8,273.4 175.9,272.5 176.1,271.9 176.2,272.4 176.4,273.5 176.7,274.6 177.0,274.7 177.3,274.9 177.6,274.9 177.9,274.9 178.2,274.7 178.4,274.8 178.7,275.0 179.0,275.0 179.3,274.7 179.6,274.9 179.9,274.9 180.2,274.9 180.5,274.7 180.8,274.9 181.1,274.9 181.4,274.8 181.7,274.9 182.0,274.7 182.3,274.4 182.6,274.4 182.9,274.4 183.2,274.0 183.5,274.2 183.8,274.0 184.1,273.9 184.4,273.6 184.7,273.6 185.0,274.1 185.3,274.1 185.6,274.2 185.9,274.4 186.2,274.6 186.5,274.5 186.8,274.8 187.1,274.6 187.4,274.9 187.7,274.7 188.0,274.3 188.3,274.1 188.6,274.5 188.9,274.6 189.2,274.9 189.5,275.0 189.8,275.1 190.1,274.8 190.4,275.0 190.7,275.0 191.0,275.0 191.3,274.8 191.6,274.9 191.9,274.9 192.2,275.1 192.5,274.9 192.8,274.8 193.1,274.8 193.4,275.1 193.7,275.1 194.0,275.0 194.2,274.8 194.5,275.0 194.8,275.1 195.1,274.8 195.4,274.9 195.7,274.8 196.0,274.7 196.3,275.0 196.6,274.8 196.9,274.7 197.2,275.0 197.5,274.7 197.8,274.9 198.1,274.9 198.4,274.6 198.7,274.6 199.0,274.1 199.2,274.0 199.3,273.7 199.4,273.4 199.6,273.0 199.8,273.3 199.9,273.4 200.1,273.9 200.2,273.9 200.5,274.0 200.8,273.8 201.1,273.3 201.4,273.8 201.7,274.0 202.0,273.9 202.3,273.9 202.6,274.1 202.9,273.9 203.2,274.2 203.5,274.3 203.8,274.5 204.1,274.4 204.4,274.5 204.7,274.7 205.0,274.4 205.3,274.4 205.6,274.6 205.9,274.3 206.2,274.5 206.5,274.0 206.8,274.0 207.1,274.1 207.4,274.1 207.7,274.2 208.0,274.2 208.3,274.4 208.6,274.7 208.9,274.8 209.2,274.8 209.5,274.7 209.8,274.8 210.1,274.7 210.3,274.7 210.6,275.0 210.9,274.8 211.2,274.8 211.5,275.0 211.8,274.8 212.1,274.8 212.4,274.8 212.7,275.1 213.0,275.0 213.3,274.8 213.6,274.7 213.9,275.1 214.2,274.8 214.5,275.0 214.8,275.0 215.1,274.9 215.4,274.9 215.7,274.8 216.0,274.6 216.3,274.5 216.6,274.1 216.9,274.4 217.2,274.5 217.5,274.7 217.8,274.9 218.1,274.8 218.4,274.7 218.7,274.7 219.0,274.4 219.3,274.6 219.6,274.5 219.9,274.4 220.2,274.2 220.5,274.2 220.8,274.2 221.1,273.9 221.4,273.8 221.7,273.9 222.0,273.9 222.3,273.9 222.6,273.7 222.9,273.6 223.2,274.0 223.5,274.2 223.8,274.6 224.1,274.8 224.4,274.9 224.7,274.6 225.0,274.9 225.3,274.7 225.6,275.0 225.9,274.9 226.1,274.9 226.4,274.9 226.7,275.1 227.0,274.8 227.3,275.1 227.6,274.8 227.9,274.7 228.2,274.7 228.5,274.4 228.8,274.5 229.1,274.4 229.4,274.8 229.7,274.8 230.0,274.9 230.3,275.0 230.6,275.0 230.9,274.9 231.2,275.0 231.5,274.8 231.8,274.8 232.1,275.0 232.4,275.1 232.7,275.1 233.0,275.0 233.3,275.1 233.6,275.1 233.9,275.0 234.2,274.8 234.5,274.9 234.8,274.8 235.1,274.8 235.4,274.3 235.7,274.0 236.0,274.3 236.3,274.5 236.6,274.9 236.9,275.0 237.2,274.9 237.5,274.8 237.8,275.0 238.1,274.9 238.4,274.9 238.7,274.8 239.0,275.1 239.3,274.9 239.6,274.8 239.9,274.6 240.2,274.4 240.5,274.2 240.8,274.3 241.1,274.7 241.4,274.7 241.7,274.8 242.0,274.8 242.2,274.5 242.5,274.7 242.8,274.4 243.1,274.4 243.4,274.6 243.7,274.2 244.0,274.3 244.3,274.4 244.6,274.6 244.9,274.7 245.2,274.4 245.5,274.7 245.8,274.8 246.1,274.7 246.4,274.7 246.7,274.7 247.0,274.7 247.3,274.7 247.6,274.7 247.9,275.0 248.2,275.0 248.5,274.8 248.8,275.1 249.1,275.1 249.4,274.9 249.7,274.9 250.0,275.1 250.3,275.0 250.6,275.1 250.9,274.8 251.2,275.1 251.5,274.9 251.8,274.8 252.1,274.8 252.4,274.9 252.7,274.9 253.0,274.9 253.3,275.1 253.6,274.9 253.9,274.9 254.2,274.8 254.5,274.8 254.8,274.9 255.1,275.0 255.4,274.8 255.7,275.0 256.0,274.9 256.3,274.8 256.6,275.0 256.9,274.9 257.2,274.9 257.5,275.1 257.8,275.0 258.0,274.9 258.3,275.0 258.6,275.1 258.9,275.0 259.2,275.2 259.5,275.1 259.8,274.9 260.1,275.2 260.4,274.8 260.7,274.9 261.0,274.8 261.3,274.9 261.6,274.9 261.9,274.9 262.2,275.0 262.5,274.9 262.8,275.0 263.1,275.1 263.4,275.2 263.7,275.2 264.0,274.9 264.3,274.9 264.6,275.2 264.9,275.1 265.2,275.1 265.5,274.8 265.8,274.9" fill="none" stroke="#9d7bd6" stroke-width="1.6" stroke-linejoin="round"/>
<path d="M27.3,310.4 27.6,310.4 27.9,310.4 28.2,310.3 28.5,310.5 28.8,310.5 29.1,310.4 29.4,310.3 29.7,310.4 30.0,310.3 30.3,310.3 30.6,310.6 30.9,310.6 31.2,310.2 31.5,310.5 31.8,310.4 32.1,310.3 32.4,310.3 32.7,310.5 33.0,310.4 33.3,310.5 33.6,310.5 33.9,310.2 34.2,310.5 34.5,310.6 34.8,310.6 35.1,310.4 35.3,310.2 35.6,310.2 35.9,310.2 36.2,310.6 36.5,310.3 36.8,310.3 37.1,310.5 37.4,310.3 37.7,310.4 38.0,310.4 38.3,310.2 38.6,310.4 38.9,310.5 39.2,310.2 39.5,310.3 39.8,310.3 40.1,310.2 40.4,310.4 40.7,310.5 41.0,310.4 41.3,310.4 41.6,310.5 41.9,310.2 42.2,310.4 42.5,310.3 42.8,310.4 43.1,310.2 43.4,310.5 43.7,310.2 44.0,310.2 44.3,310.5 44.6,310.6 44.9,310.3 45.2,310.3 45.5,310.3 45.8,310.3 46.1,310.4 46.4,310.2 46.7,310.2 47.0,310.3 47.3,310.2 47.6,310.4 47.9,310.5 48.2,310.5 48.5,310.4 48.8,310.3 49.1,310.3 49.4,310.2 49.7,310.4 50.0,310.3 50.3,310.3 50.6,310.2 50.9,310.3 51.2,310.4 51.4,310.3 51.7,310.5 52.0,310.4 52.3,310.2 52.6,310.3 52.9,310.5 53.2,310.3 53.5,310.3 53.8,310.1 54.1,310.3 54.4,310.2 54.7,310.1 55.0,310.1 55.3,310.0 55.6,309.7 55.9,309.0 56.0,308.7 56.2,308.0 56.3,308.0 56.5,307.3 56.8,307.6 56.8,307.8 57.0,308.8 57.1,308.8 57.4,309.5 57.7,309.7 58.0,309.9 58.3,310.1 58.6,309.8 58.9,309.4 59.2,307.7 59.3,306.3 59.5,303.7 59.5,303.6 59.6,302.4 59.8,303.6 59.8,303.7 60.0,306.3 60.1,307.9 60.4,309.3 60.7,309.7 61.0,310.0 61.3,310.2 61.6,310.2 61.9,310.2 62.2,310.3 62.5,310.2 62.8,310.3 63.1,310.4 63.4,310.2 63.7,310.3 64.0,310.3 64.3,310.3 64.6,310.0 64.9,310.3 65.2,310.2 65.5,310.3 65.8,310.3 66.1,310.0 66.4,310.1 66.7,309.9 67.0,310.0 67.2,310.1 67.5,309.8 67.8,309.8 68.1,309.6 68.4,309.6 68.7,309.5 69.0,309.4 69.3,309.6 69.6,309.4 69.9,308.9 70.2,308.6 70.5,308.1 70.8,307.2 71.1,306.1 71.4,304.9 71.7,303.3 72.0,301.4 72.3,299.6 72.6,298.4 72.9,297.8 73.2,298.2 73.5,299.7 73.8,301.5 74.1,303.3 74.4,304.8 74.7,305.8 75.0,306.9 75.3,307.4 75.6,307.8 75.9,307.9 76.2,307.7 76.5,306.7 76.8,300.8 76.9,293.2 77.1,283.1 77.2,277.0 77.4,283.1 77.5,293.4 77.7,301.0 78.0,307.0 78.3,308.6 78.6,309.1 78.9,309.4 79.2,309.6 79.5,309.7 79.8,309.9 80.1,310.0 80.4,310.1 80.7,310.0 81.0,310.2 81.3,310.3 81.6,310.3 81.9,310.2 82.2,310.0 82.5,310.3 82.8,310.3 83.0,310.0 83.3,310.1 83.6,310.2 83.9,310.3 84.2,310.3 84.5,310.2 84.8,310.1 85.1,310.1 85.4,310.1 85.7,310.4 86.0,310.5 86.3,310.2 86.6,310.4 86.9,310.5 87.2,310.2 87.5,310.3 87.8,310.3 88.1,310.5 88.4,310.5 88.7,310.1 89.0,310.2 89.3,310.5 89.6,310.3 89.9,310.3 90.2,310.4 90.5,310.4 90.8,310.5 91.1,310.3 91.4,310.1 91.7,310.4 92.0,310.1 92.3,310.3 92.6,310.5 92.9,310.3 93.2,310.4 93.5,310.2 93.8,310.2 94.1,310.4 94.4,310.5 94.7,310.5 95.0,310.1 95.3,310.5 95.6,310.3 95.9,310.3 96.2,310.3 96.5,310.4 96.8,310.3 97.1,310.2 97.4,310.5 97.7,310.4 98.0,310.4 98.3,310.4 98.6,310.5 98.8,310.2 99.1,310.4 99.4,310.4 99.7,310.2 100.0,310.3 100.3,310.3 100.6,310.2 100.9,310.2 101.2,310.1 101.5,310.4 101.8,310.1 102.1,310.3 102.4,310.3 102.7,310.4 103.0,310.3 103.3,310.1 103.6,310.1 103.9,310.0 104.2,310.0 104.5,310.0 104.8,310.2 105.1,309.8 105.4,309.8 105.7,309.7 106.0,308.8 106.2,308.0 106.3,307.8 106.5,307.8 106.6,308.7 106.9,309.3 107.2,309.4 107.5,309.2 107.8,309.1 108.1,309.0 108.4,309.0 108.7,308.6 109.0,308.6 109.3,308.4 109.6,307.9 109.9,308.1 110.2,307.8 110.5,307.7 110.8,307.8 111.1,308.1 111.4,308.0 111.7,308.1 112.0,308.6 112.3,308.5 112.6,308.7 112.9,309.1 113.2,309.2 113.5,309.3 113.8,309.6 114.1,309.8 114.4,309.6 114.7,309.7 114.9,309.0 115.1,308.4 115.2,308.0 115.4,308.2 115.5,308.9 115.8,309.8 116.1,310.0 116.4,309.9 116.7,310.1 117.0,310.0 117.3,309.6 117.6,309.0 117.9,309.5 118.2,310.0 118.5,310.4 118.8,310.1 119.1,310.4 119.4,310.3 119.7,310.1 120.0,310.4 120.3,310.1 120.6,310.4 120.9,310.2 121.2,310.4 121.5,310.4 121.8,310.2 122.1,310.3 122.4,310.5 122.7,310.1 123.0,310.1 123.3,310.1 123.6,310.2 123.9,309.3 124.0,308.7 124.2,308.6 124.3,308.9 124.5,309.4 124.8,310.1 125.1,310.0 125.4,310.1 125.7,310.1 126.0,310.1 126.3,310.4 126.6,310.5 126.9,310.2 127.2,310.3 127.5,310.1 127.8,310.3 128.1,310.4 128.4,310.4 128.7,310.5 129.0,310.3 129.3,310.1 129.6,310.3 129.9,310.3 130.2,310.2 130.5,310.1 130.7,310.4 131.0,310.3 131.3,310.4 131.6,310.2 131.9,310.1 132.2,310.2 132.5,310.1 132.8,310.2 133.1,310.1 133.4,309.9 133.7,309.7 134.0,309.1 134.3,309.5 134.6,309.9 134.9,310.2 135.2,310.3 135.5,310.3 135.8,310.2 136.1,310.2 136.4,310.2 136.7,310.1 137.0,310.1 137.3,310.1 137.6,310.0 137.9,309.9 138.2,309.7 138.5,309.5 138.8,309.1 139.1,308.9 139.4,308.7 139.7,308.2 140.0,308.0 140.3,307.6 140.6,307.6 140.9,307.5 141.2,307.8 141.5,308.4 141.8,308.5 142.1,309.0 142.4,309.0 142.7,309.5 143.0,309.6 143.3,310.0 143.6,310.0 143.9,310.1 144.2,310.0 144.5,310.1 144.8,309.9 145.1,310.1 145.4,310.0 145.7,310.0 146.0,309.8 146.3,309.4 146.6,307.9 146.7,306.5 146.8,305.7 147.0,306.7 147.1,308.0 147.4,309.4 147.7,310.0 148.0,310.0 148.3,310.3 148.6,310.0 148.9,310.2 149.2,310.3 149.5,310.4 149.8,310.2 150.1,310.2 150.4,310.3 150.7,310.3 151.0,310.4 151.3,310.3 151.6,310.0 151.9,310.4 152.2,310.3 152.5,310.1 152.8,310.2 153.1,310.3 153.4,310.3 153.7,310.2 154.0,309.9 154.3,309.8 154.6,309.9 154.9,309.9 155.2,309.7 155.5,309.8 155.8,309.7 156.1,309.5 156.4,309.4 156.7,309.1 157.0,309.2 157.3,308.8 157.6,308.6 157.9,308.5 158.2,308.5 158.5,308.2 158.8,308.1 159.1,308.0 159.4,307.7 159.7,307.9 160.0,307.9 160.3,307.7 160.6,307.7 160.9,307.5 161.2,307.2 161.5,307.5 161.8,308.4 162.1,308.7 162.4,309.1 162.6,309.1 162.9,309.1 163.2,309.4 163.5,309.5 163.8,309.7 164.1,309.7 164.4,309.8 164.7,310.0 165.0,309.9 165.3,310.0 165.6,310.0 165.9,309.9 166.2,310.2 166.5,310.2 166.8,310.3 167.1,310.3 167.4,310.0 167.7,310.3 168.0,310.2 168.3,310.4 168.6,310.1 168.9,310.4 169.2,310.2 169.5,310.1 169.8,310.3 170.1,310.4 170.4,310.1 170.7,310.2 171.0,310.1 171.3,310.1 171.6,310.4 171.9,310.3 172.2,310.3 172.5,310.5 172.8,310.1 173.1,310.5 173.4,310.4 173.7,310.4 174.0,310.4 174.3,310.2 174.6,310.1 174.9,310.4 175.2,310.2 175.5,309.9 175.8,308.7 175.9,307.5 176.1,307.0 176.2,307.5 176.4,308.5 176.7,309.8 177.0,310.1 177.3,310.1 177.6,310.3 177.9,310.4 178.2,310.3 178.4,310.1 178.7,310.3 179.0,310.3 179.3,310.4 179.6,310.2 179.9,310.2 180.2,310.2 180.5,310.1 180.8,310.3 181.1,310.0 181.4,310.2 181.7,310.3 182.0,309.9 182.3,309.9 182.6,310.1 182.9,309.7 183.2,309.7 183.5,309.3 183.8,309.3 184.1,309.0 184.4,309.1 184.7,309.0 185.0,309.4 185.3,309.4 185.6,309.5 185.9,309.7 186.2,309.9 186.5,309.9 186.8,309.9 187.1,309.9 187.4,310.1 187.7,310.0 188.0,309.6 188.3,309.5 188.6,309.9 188.9,310.0 189.2,310.3 189.5,310.2 189.8,310.3 190.1,310.4 190.4,310.4 190.7,310.3 191.0,310.2 191.3,310.1 191.6,310.3 191.9,310.4 192.2,310.3 192.5,310.4 192.8,310.3 193.1,310.2 193.4,310.4 193.7,310.4 194.0,310.3 194.2,310.2 194.5,310.5 194.8,310.4 195.1,310.4 195.4,310.1 195.7,310.4 196.0,310.2 196.3,310.3 196.6,310.3 196.9,310.2 197.2,310.4 197.5,310.1 197.8,310.4 198.1,310.3 198.4,310.1 198.7,310.1 199.0,309.6 199.2,309.4 199.3,308.8 199.4,308.8 199.6,308.3 199.8,308.6 199.9,308.9 200.1,309.1 200.2,309.2 200.5,309.5 200.8,308.9 201.1,308.6 201.4,309.0 201.7,309.2 202.0,309.4 202.3,309.3 202.6,309.4 202.9,309.4 203.2,309.6 203.5,309.8 203.8,309.7 204.1,309.9 204.4,310.0 204.7,310.0 205.0,310.0 205.3,310.0 205.6,309.9 205.9,309.9 206.2,309.7 206.5,309.7 206.8,309.4 207.1,309.6 207.4,309.6 207.7,309.6 208.0,309.8 208.3,310.0 208.6,310.1 208.9,310.1 209.2,310.3 209.5,310.3 209.8,310.1 210.1,310.4 210.3,310.4 210.6,310.3 210.9,310.5 211.2,310.2 211.5,310.4 211.8,310.2 212.1,310.3 212.4,310.3 212.7,310.3 213.0,310.3 213.3,310.2 213.6,310.1 213.9,310.4 214.2,310.2 214.5,310.2 214.8,310.4 215.1,310.4 215.4,310.3 215.7,310.3 216.0,310.0 216.3,310.0 216.6,309.6 216.9,309.9 217.2,310.1 217.5,310.2 217.8,310.3 218.1,310.2 218.4,310.1 218.7,309.9 219.0,309.9 219.3,309.9 219.6,309.6 219.9,309.7 220.2,309.5 220.5,309.4 220.8,309.2 221.1,309.2 221.4,309.4 221.7,309.3 222.0,309.3 222.3,309.5 222.6,309.0 222.9,309.2 223.2,309.5 223.5,309.9 223.8,310.1 224.1,309.9 224.4,310.1 224.7,310.4 225.0,310.2 225.3,310.3 225.6,310.4 225.9,310.3 226.1,310.2 226.4,310.3 226.7,310.3 227.0,310.2 227.3,310.1 227.6,310.2 227.9,310.5 228.2,310.1 228.5,309.9 228.8,309.9 229.1,309.8 229.4,310.1 229.7,310.2 230.0,310.3 230.3,310.3 230.6,310.2 230.9,310.2 231.2,310.4 231.5,310.2 231.8,310.2 232.1,310.5 232.4,310.5 232.7,310.3 233.0,310.5 233.3,310.2 233.6,310.5 233.9,310.4 234.2,310.4 234.5,310.1 234.8,310.3 235.1,309.9 235.4,309.7 235.7,309.5 236.0,309.5 236.3,310.0 236.6,310.4 236.9,310.4 237.2,310.2 237.5,310.5 237.8,310.2 238.1,310.4 238.4,310.4 238.7,310.4 239.0,310.4 239.3,310.4 239.6,310.1 239.9,310.2 240.2,309.8 240.5,309.5 240.8,309.6 241.1,310.1 241.4,309.9 241.7,310.1 242.0,310.2 242.2,310.0 242.5,310.0 242.8,309.8 243.1,309.8 243.4,309.8 243.7,309.9 244.0,309.8 244.3,310.0 244.6,309.8 244.9,310.1 245.2,310.0 245.5,310.0 245.8,310.0 246.1,310.3 246.4,310.3 246.7,310.2 247.0,310.2 247.3,310.2 247.6,310.2 247.9,310.2 248.2,310.5 248.5,310.3 248.8,310.2 249.1,310.4 249.4,310.2 249.7,310.5 250.0,310.2 250.3,310.4 250.6,310.4 250.9,310.3 251.2,310.2 251.5,310.5 251.8,310.4 252.1,310.5 252.4,310.2 252.7,310.2 253.0,310.5 253.3,310.3 253.6,310.2 253.9,310.5 254.2,310.4 254.5,310.2 254.8,310.4 255.1,310.4 255.4,310.6 255.7,310.4 256.0,310.2 256.3,310.4 256.6,310.5 256.9,310.6 257.2,310.3 257.5,310.4 257.8,310.2 258.0,310.6 258.3,310.2 258.6,310.5 258.9,310.5 259.2,310.4 259.5,310.6 259.8,310.4 260.1,310.4 260.4,310.5 260.7,310.2 261.0,310.5 261.3,310.5 261.6,310.3 261.9,310.5 262.2,310.3 262.5,310.3 262.8,310.4 263.1,310.5 263.4,310.3 263.7,310.3 264.0,310.3 264.3,310.4 264.6,310.4 264.9,310.5 265.2,310.5 265.5,310.2 265.8,310.3" fill="none" stroke="#e0414f" stroke-width="1.6" stroke-linejoin="round"/>
<path d="M27.3,338.2 27.6,338.2 27.9,338.4 28.2,338.2 28.5,338.2 28.8,338.2 29.1,338.1 29.4,338.2 29.7,338.2 30.0,338.3 30.3,338.0 30.6,338.1 30.9,338.0 31.2,338.3 31.5,338.3 31.8,338.0 32.1,338.4 32.4,338.4 32.7,338.2 33.0,338.2 33.3,338.0 33.6,338.0 33.9,338.2 34.2,338.0 34.5,338.1 34.8,338.1 35.1,338.0 35.3,338.2 35.6,338.2 35.9,338.3 36.2,338.2 36.5,338.2 36.8,338.2 37.1,338.2 37.4,338.2 37.7,338.1 38.0,338.4 38.3,338.4 38.6,338.3 38.9,338.3 39.2,338.1 39.5,338.1 39.8,338.1 40.1,338.0 40.4,338.3 40.7,338.1 41.0,338.3 41.3,338.1 41.6,338.4 41.9,338.3 42.2,338.0 42.5,338.1 42.8,338.3 43.1,338.2 43.4,338.4 43.7,338.1 44.0,338.0 44.3,338.2 44.6,338.3 44.9,338.1 45.2,338.0 45.5,338.1 45.8,338.4 46.1,338.3 46.4,338.0 46.7,338.1 47.0,338.0 47.3,338.0 47.6,338.3 47.9,338.0 48.2,338.2 48.5,338.1 48.8,338.0 49.1,338.3 49.4,338.0 49.7,338.2 50.0,338.0 50.3,338.1 50.6,338.0 50.9,338.1 51.2,338.3 51.4,338.3 51.7,338.1 52.0,338.3 52.3,338.0 52.6,338.1 52.9,338.3 53.2,338.2 53.5,338.0 53.8,338.3 54.1,338.0 54.4,338.0 54.7,338.2 55.0,338.0 55.3,337.9 55.6,337.7 55.9,337.3 56.2,337.0 56.5,336.5 56.8,337.0 57.1,337.4 57.4,337.8 57.7,338.1 58.0,337.9 58.3,337.9 58.6,338.0 58.9,337.5 59.2,336.5 59.3,336.0 59.5,334.5 59.5,334.2 59.6,333.5 59.8,334.4 59.8,334.6 60.0,335.7 60.1,336.8 60.4,337.8 60.7,337.9 61.0,337.9 61.3,337.8 61.6,337.8 61.9,338.2 62.2,337.9 62.5,338.1 62.8,337.9 63.1,338.1 63.4,338.1 63.7,337.9 64.0,337.9 64.3,338.1 64.6,337.8 64.9,337.9 65.2,338.0 65.5,338.1 65.8,338.0 66.1,337.8 66.4,338.0 66.7,337.7 67.0,337.6 67.2,337.7 67.5,337.7 67.8,337.5 68.1,337.5 68.4,337.5 68.7,337.5 69.0,337.2 69.3,337.1 69.6,337.2 69.9,336.9 70.2,336.4 70.5,335.9 70.8,335.0 71.1,333.8 71.4,332.4 71.7,330.8 72.0,329.4 72.3,327.5 72.6,326.2 72.9,325.3 73.2,326.1 73.5,327.4 73.8,329.2 74.1,330.8 74.4,332.7 74.7,333.6 75.0,334.8 75.3,335.5 75.6,336.0 75.9,336.1 76.2,335.9 76.5,334.9 76.8,330.1 76.9,323.6 77.1,315.1 77.2,310.2 77.4,315.3 77.5,323.8 77.7,330.4 78.0,335.4 78.3,336.5 78.6,337.1 78.9,337.2 79.2,337.5 79.5,337.6 79.8,337.5 80.1,337.8 80.4,338.0 80.7,338.0 81.0,338.0 81.3,337.9 81.6,338.0 81.9,338.0 82.2,337.9 82.5,338.1 82.8,337.8 83.0,338.1 83.3,337.8 83.6,338.1 83.9,338.0 84.2,337.9 84.5,338.1 84.8,338.1 85.1,338.1 85.4,338.2 85.7,338.0 86.0,337.9 86.3,338.0 86.6,338.2 86.9,338.0 87.2,338.0 87.5,338.3 87.8,338.2 88.1,338.1 88.4,338.3 88.7,338.0 89.0,338.2 89.3,338.0 89.6,338.1 89.9,338.2 90.2,338.3 90.5,338.3 90.8,338.1 91.1,338.2 91.4,338.0 91.7,338.0 92.0,338.1 92.3,338.3 92.6,338.3 92.9,338.2 93.2,338.3 93.5,338.0 93.8,338.0 94.1,338.1 94.4,338.0 94.7,338.0 95.0,338.1 95.3,338.2 95.6,338.1 95.9,338.0 96.2,338.3 96.5,338.3 96.8,338.1 97.1,337.9 97.4,337.9 97.7,338.3 98.0,337.9 98.3,338.2 98.6,338.1 98.8,338.0 99.1,338.2 99.4,337.9 99.7,337.9 100.0,338.1 100.3,337.9 100.6,338.2 100.9,338.0 101.2,337.9 101.5,337.9 101.8,338.1 102.1,338.0 102.4,338.1 102.7,338.1 103.0,338.1 103.3,338.2 103.6,338.1 103.9,337.9 104.2,337.9 104.5,337.8 104.8,337.7 105.1,337.8 105.4,337.8 105.7,337.4 106.0,336.8 106.2,336.2 106.3,336.0 106.5,336.2 106.6,336.7 106.9,337.3 107.2,337.2 107.5,337.3 107.8,337.2 108.1,336.7 108.4,336.8 108.7,336.5 109.0,336.1 109.3,336.0 109.6,335.9 109.9,335.9 110.2,335.6 110.5,335.6 110.8,335.8 111.1,335.8 111.4,336.0 111.7,336.0 112.0,336.3 112.3,336.3 112.6,336.8 112.9,337.0 113.2,337.1 113.5,337.3 113.8,337.2 114.1,337.6 114.4,337.7 114.7,337.6 114.9,336.9 115.1,336.6 115.2,336.1 115.4,336.7 115.5,337.2 115.8,337.6 116.1,337.6 116.4,337.8 116.7,337.9 117.0,337.9 117.3,337.5 117.6,336.9 117.9,337.7 118.2,337.7 118.5,338.1 118.8,337.9 119.1,338.0 119.4,338.2 119.7,337.9 120.0,337.9 120.3,338.1 120.6,338.2 120.9,338.2 121.2,338.2 121.5,338.3 121.8,338.1 122.1,338.3 122.4,337.9 122.7,338.0 123.0,338.1 123.3,337.9 123.6,338.0 123.9,337.5 124.2,336.7 124.5,337.5 124.8,337.9 125.1,338.0 125.4,338.0 125.7,338.2 126.0,338.3 126.3,338.0 126.6,338.3 126.9,338.3 127.2,338.1 127.5,338.1 127.8,338.0 128.1,338.1 128.4,338.1 128.7,338.2 129.0,337.9 129.3,338.3 129.6,338.1 129.9,338.1 130.2,338.2 130.5,338.1 130.7,338.1 131.0,338.2 131.3,337.9 131.6,338.1 131.9,338.1 132.2,338.3 132.5,338.2 132.8,338.0 133.1,338.0 133.4,337.8 133.7,337.6 134.0,337.4 134.3,337.7 134.6,337.9 134.9,337.9 135.2,337.9 135.5,338.0 135.8,338.2 136.1,337.8 136.4,338.1 136.7,337.7 137.0,337.8 137.3,337.7 137.6,337.8 137.9,337.6 138.2,337.4 138.5,337.3 138.8,336.9 139.1,336.8 139.4,336.3 139.7,336.0 140.0,335.6 140.3,335.3 140.6,335.4 140.9,335.4 141.2,335.6 141.5,336.0 141.8,336.4 142.1,336.6 142.4,336.9 142.7,337.3 143.0,337.5 143.3,337.6 143.6,337.9 143.9,337.8 144.2,338.0 144.5,337.8 144.8,338.0 145.1,338.0 145.4,338.1 145.7,337.8 146.0,337.7 146.3,337.7 146.6,336.1 146.7,335.2 146.8,334.5 147.0,334.9 147.1,336.1 147.4,337.6 147.7,337.7 148.0,337.8 148.3,338.1 148.6,338.0 148.9,338.1 149.2,337.9 149.5,338.0 149.8,338.1 150.1,337.8 150.4,337.9 150.7,338.1 151.0,338.2 151.3,338.2 151.6,337.8 151.9,338.0 152.2,338.1 152.5,338.0 152.8,338.0 153.1,337.8 153.4,337.7 153.7,337.7 154.0,337.6 154.3,337.8 154.6,337.7 154.9,337.7 155.2,337.5 155.5,337.4 155.8,337.3 156.1,337.4 156.4,337.4 156.7,337.2 157.0,336.7 157.3,336.5 157.6,336.7 157.9,336.3 158.2,336.2 158.5,335.9 158.8,335.8 159.1,335.7 159.4,335.5 159.7,335.6 160.0,335.3 160.3,335.6 160.6,335.6 160.9,335.2 161.2,335.2 161.5,335.7 161.8,336.2 162.1,336.4 162.4,336.7 162.6,337.0 162.9,337.0 163.2,337.4 163.5,337.5 163.8,337.6 164.1,337.7 164.4,337.7 164.7,337.7 165.0,337.8 165.3,337.8 165.6,338.1 165.9,338.0 166.2,337.8 166.5,338.1 166.8,338.1 167.1,338.1 167.4,338.1 167.7,338.0 168.0,338.2 168.3,338.2 168.6,338.1 168.9,338.2 169.2,338.2 169.5,338.0 169.8,338.2 170.1,337.9 170.4,338.0 170.7,338.1 171.0,337.9 171.3,338.0 171.6,338.2 171.9,338.1 172.2,338.0 172.5,338.3 172.8,338.2 173.1,338.0 173.4,338.2 173.7,338.1 174.0,338.1 174.3,338.0 174.6,338.3 174.9,338.1 175.2,338.0 175.5,337.8 175.8,337.0 175.9,335.7 176.1,335.5 176.2,336.0 176.4,336.7 176.7,337.7 177.0,337.8 177.3,337.9 177.6,338.0 177.9,337.9 178.2,338.0 178.4,338.3 178.7,338.1 179.0,338.1 179.3,338.3 179.6,338.1 179.9,338.3 180.2,338.1 180.5,338.2 180.8,337.9 181.1,338.1 181.4,338.1 181.7,337.8 182.0,338.0 182.3,337.7 182.6,337.7 182.9,337.4 183.2,337.4 183.5,337.3 183.8,336.9 184.1,337.2 184.4,336.9 184.7,337.0 185.0,337.1 185.3,337.2 185.6,337.3 185.9,337.6 186.2,337.7 186.5,337.7 186.8,337.9 187.1,337.8 187.4,337.7 187.7,337.7 188.0,337.4 188.3,337.3 188.6,337.7 188.9,337.8 189.2,338.2 189.5,338.2 189.8,337.9 190.1,338.3 190.4,338.3 190.7,337.9 191.0,338.3 191.3,338.1 191.6,338.1 191.9,338.3 192.2,338.0 192.5,338.1 192.8,338.3 193.1,338.2 193.4,338.1 193.7,338.3 194.0,338.3 194.2,338.2 194.5,338.0 194.8,338.2 195.1,338.1 195.4,338.0 195.7,337.9 196.0,338.1 196.3,338.0 196.6,338.1 196.9,338.2 197.2,338.1 197.5,338.0 197.8,338.1 198.1,338.0 198.4,338.1 198.7,337.9 199.0,337.7 199.2,337.4 199.3,337.0 199.4,336.6 199.6,336.2 199.8,336.8 199.9,336.9 200.1,337.1 200.2,337.2 200.5,337.3 200.8,337.1 201.1,336.7 201.4,336.9 201.7,337.2 202.0,337.4 202.3,337.1 202.6,337.2 202.9,337.5 203.2,337.5 203.5,337.6 203.8,337.4 204.1,337.5 204.4,337.6 204.7,337.7 205.0,337.8 205.3,337.5 205.6,337.7 205.9,337.4 206.2,337.3 206.5,337.5 206.8,337.4 207.1,337.4 207.4,337.3 207.7,337.4 208.0,337.4 208.3,337.6 208.6,337.8 208.9,338.0 209.2,337.7 209.5,337.8 209.8,338.1 210.1,338.1 210.3,338.2 210.6,338.0 210.9,338.1 211.2,338.0 211.5,338.2 211.8,338.1 212.1,338.2 212.4,338.3 212.7,338.0 213.0,338.1 213.3,338.2 213.6,338.3 213.9,338.1 214.2,338.1 214.5,337.9 214.8,338.2 215.1,337.9 215.4,337.9 215.7,338.1 216.0,337.9 216.3,337.8 216.6,337.4 216.9,337.8 217.2,337.7 217.5,337.8 217.8,338.0 218.1,337.8 218.4,337.8 218.7,337.9 219.0,337.8 219.3,337.6 219.6,337.4 219.9,337.4 220.2,337.4 220.5,337.2 220.8,337.0 221.1,337.2 221.4,337.2 221.7,337.4 222.0,337.4 222.3,337.4 222.6,337.1 222.9,337.2 223.2,337.2 223.5,337.6 223.8,337.8 224.1,338.1 224.4,338.1 224.7,337.9 225.0,338.0 225.3,338.0 225.6,338.0 225.9,338.1 226.1,338.1 226.4,338.0 226.7,338.1 227.0,338.2 227.3,338.1 227.6,338.2 227.9,338.1 228.2,337.9 228.5,337.9 228.8,337.8 229.1,337.7 229.4,337.8 229.7,338.1 230.0,338.1 230.3,338.2 230.6,338.3 230.9,338.2 231.2,338.3 231.5,338.0 231.8,338.2 232.1,338.3 232.4,338.0 232.7,338.0 233.0,338.2 233.3,338.3 233.6,338.0 233.9,338.2 234.2,338.0 234.5,338.2 234.8,338.1 235.1,337.8 235.4,337.5 235.7,337.5 236.0,337.7 236.3,338.0 236.6,338.0 236.9,338.0 237.2,338.3 237.5,338.2 237.8,338.1 238.1,338.1 238.4,338.2 238.7,338.2 239.0,338.3 239.3,338.0 239.6,338.2 239.9,338.0 240.2,337.8 240.5,337.6 240.8,337.8 241.1,338.0 241.4,338.1 241.7,338.0 242.0,337.9 242.2,337.9 242.5,337.9 242.8,337.7 243.1,337.7 243.4,337.5 243.7,337.7 244.0,337.8 244.3,337.5 244.6,337.5 244.9,337.6 245.2,337.7 245.5,337.7 245.8,338.1 246.1,337.8 246.4,337.9 246.7,337.9 247.0,338.1 247.3,338.2 247.6,338.0 247.9,337.9 248.2,338.1 248.5,338.2 248.8,338.3 249.1,338.0 249.4,338.0 249.7,338.0 250.0,338.0 250.3,338.1 250.6,338.3 250.9,338.2 251.2,338.1 251.5,338.0 251.8,338.1 252.1,338.0 252.4,338.3 252.7,338.1 253.0,338.2 253.3,338.3 253.6,338.2 253.9,338.1 254.2,338.3 254.5,338.3 254.8,338.1 255.1,338.2 255.4,338.4 255.7,338.2 256.0,338.1 256.3,338.0 256.6,338.4 256.9,338.3 257.2,338.1 257.5,338.2 257.8,338.2 258.0,338.1 258.3,338.4 258.6,338.3 258.9,338.1 259.2,338.0 259.5,338.2 259.8,338.1 260.1,338.3 260.4,338.3 260.7,338.2 261.0,338.1 261.3,338.1 261.6,338.1 261.9,338.1 262.2,338.3 262.5,338.2 262.8,338.2 263.1,338.4 263.4,338.1 263.7,338.2 264.0,338.1 264.3,338.3 264.6,338.0 264.9,338.3 265.2,338.3 265.5,338.3 265.8,338.0" fill="none" stroke="#35a86b" stroke-width="1.6" stroke-linejoin="round"/>
<path d="M27.3,362.0 27.6,362.1 27.9,362.1 28.2,361.8 28.5,361.8 28.8,361.9 29.1,361.9 29.4,362.1 29.7,362.1 30.0,362.0 30.3,362.0 30.6,362.1 30.9,361.8 31.2,362.0 31.5,361.9 31.8,362.2 32.1,361.8 32.4,362.1 32.7,361.8 33.0,362.1 33.3,361.9 33.6,361.9 33.9,362.1 34.2,361.8 34.5,361.8 34.8,362.2 35.1,362.0 35.3,361.8 35.6,362.2 35.9,362.2 36.2,361.8 36.5,362.0 36.8,361.8 37.1,361.9 37.4,362.0 37.7,361.8 38.0,362.1 38.3,361.8 38.6,361.9 38.9,362.1 39.2,361.9 39.5,361.9 39.8,362.0 40.1,362.0 40.4,361.9 40.7,361.8 41.0,362.1 41.3,362.2 41.6,362.2 41.9,362.0 42.2,361.9 42.5,361.9 42.8,362.1 43.1,362.0 43.4,361.8 43.7,361.9 44.0,361.9 44.3,362.0 44.6,362.1 44.9,362.0 45.2,361.8 45.5,362.1 45.8,361.9 46.1,362.0 46.4,361.9 46.7,361.9 47.0,361.9 47.3,362.1 47.6,361.8 47.9,362.0 48.2,361.8 48.5,362.0 48.8,361.8 49.1,361.9 49.4,361.9 49.7,362.0 50.0,361.8 50.3,361.9 50.6,361.8 50.9,361.9 51.2,361.9 51.4,362.1 51.7,361.9 52.0,362.1 52.3,361.8 52.6,362.1 52.9,361.9 53.2,361.8 53.5,362.0 53.8,362.1 54.1,361.7 54.4,361.8 54.7,362.0 55.0,361.8 55.3,361.7 55.6,361.4 55.9,361.1 56.2,360.8 56.5,360.6 56.8,360.9 57.1,361.3 57.4,361.4 57.7,361.6 58.0,361.8 58.3,361.8 58.6,361.7 58.9,361.3 59.2,360.5 59.3,359.6 59.5,358.3 59.5,358.0 59.6,357.6 59.8,358.3 59.8,358.1 60.0,359.6 60.1,360.6 60.4,361.3 60.7,361.8 61.0,361.7 61.3,361.9 61.6,361.9 61.9,361.7 62.2,361.7 62.5,361.7 62.8,361.9 63.1,361.9 63.4,361.7 63.7,362.0 64.0,361.8 64.3,361.7 64.6,361.8 64.9,362.0 65.2,361.8 65.5,361.8 65.8,361.9 66.1,361.9 66.4,361.8 66.7,361.6 67.0,361.6 67.2,361.7 67.5,361.6 67.8,361.5 68.1,361.4 68.4,361.3 68.7,361.4 69.0,361.2 69.3,360.8 69.6,360.9 69.9,360.7 70.2,360.3 70.5,359.7 70.8,359.0 71.1,357.8 71.4,356.5 71.7,354.8 72.0,352.8 72.3,351.2 72.6,349.8 72.9,349.5 73.2,349.9 73.5,351.2 73.8,353.0 74.1,354.6 74.4,356.3 74.7,357.7 75.0,358.6 75.3,359.2 75.6,359.7 75.9,359.9 76.2,359.9 76.5,359.0 76.8,355.1 76.9,350.2 77.1,343.6 77.2,339.6 77.4,343.6 77.5,350.7 77.7,355.5 78.0,359.4 78.3,360.5 78.6,360.9 78.9,361.1 79.2,361.4 79.5,361.4 79.8,361.4 80.1,361.5 80.4,361.8 80.7,361.5 81.0,361.6 81.3,361.6 81.6,361.6 81.9,361.7 82.2,361.7 82.5,362.0 82.8,361.8 83.0,361.9 83.3,361.7 83.6,361.8 83.9,361.9 84.2,362.0 84.5,361.8 84.8,361.9 85.1,362.0 85.4,362.0 85.7,361.8 86.0,361.9 86.3,362.0 86.6,361.9 86.9,362.0 87.2,362.0 87.5,362.1 87.8,361.9 88.1,362.0 88.4,361.9 88.7,362.0 89.0,361.8 89.3,361.9 89.6,361.9 89.9,361.8 90.2,361.8 90.5,361.8 90.8,361.9 91.1,361.8 91.4,361.7 91.7,362.0 92.0,361.8 92.3,362.1 92.6,362.0 92.9,361.9 93.2,362.1 93.5,362.1 93.8,361.9 94.1,361.8 94.4,362.0 94.7,362.1 95.0,362.0 95.3,362.0 95.6,361.9 95.9,362.0 96.2,361.8 96.5,361.9 96.8,361.9 97.1,361.9 97.4,361.9 97.7,362.0 98.0,361.8 98.3,361.8 98.6,361.8 98.8,362.1 99.1,361.9 99.4,361.7 99.7,362.0 100.0,362.0 100.3,362.0 100.6,361.8 100.9,362.0 101.2,361.8 101.5,361.7 101.8,362.0 102.1,362.0 102.4,361.7 102.7,362.0 103.0,361.6 103.3,361.7 103.6,361.6 103.9,361.6 104.2,361.6 104.5,361.8 104.8,361.6 105.1,361.5 105.4,361.4 105.7,361.3 106.0,360.8 106.2,360.1 106.3,359.5 106.5,360.1 106.6,360.5 106.9,361.0 107.2,361.1 107.5,361.0 107.8,360.9 108.1,360.6 108.4,360.5 108.7,360.2 109.0,360.1 109.3,359.8 109.6,359.6 109.9,359.5 110.2,359.5 110.5,359.3 110.8,359.6 111.1,359.5 111.4,359.8 111.7,359.9 112.0,360.2 112.3,360.3 112.6,360.4 112.9,360.6 113.2,360.9 113.5,361.1 113.8,361.3 114.1,361.1 114.4,361.1 114.7,361.1 114.9,360.6 115.1,360.1 115.2,359.8 115.4,360.2 115.5,360.7 115.8,361.5 116.1,361.6 116.4,361.8 116.7,361.9 117.0,361.7 117.3,361.5 117.6,360.7 117.9,361.2 118.2,361.9 118.5,361.8 118.8,361.7 119.1,361.9 119.4,361.8 119.7,361.9 120.0,361.8 120.3,361.8 120.6,361.7 120.9,361.9 121.2,362.1 121.5,362.1 121.8,362.0 122.1,362.1 122.4,361.8 122.7,361.8 123.0,362.0 123.3,361.9 123.6,361.8 123.9,361.0 124.2,360.4 124.5,361.2 124.8,361.8 125.1,362.0 125.4,362.0 125.7,361.8 126.0,361.9 126.3,362.1 126.6,362.1 126.9,361.9 127.2,361.8 127.5,362.0 127.8,361.9 128.1,361.9 128.4,361.8 128.7,361.9 129.0,362.0 129.3,361.8 129.6,361.9 129.9,362.1 130.2,362.0 130.5,361.8 130.7,361.9 131.0,361.7 131.3,362.0 131.6,362.0 131.9,361.8 132.2,361.9 132.5,361.9 132.8,361.9 133.1,361.8 133.4,361.6 133.7,361.3 134.0,361.3 134.3,361.3 134.6,361.7 134.9,361.8 135.2,361.7 135.5,361.8 135.8,361.7 136.1,361.7 136.4,361.7 136.7,361.7 137.0,361.9 137.3,361.5 137.6,361.5 137.9,361.5 138.2,361.2 138.5,361.1 138.8,360.9 139.1,360.4 139.4,360.3 139.7,359.7 140.0,359.4 140.3,359.4 140.6,359.3 140.9,359.3 141.2,359.4 141.5,359.8 141.8,360.1 142.1,360.7 142.4,360.7 142.7,361.0 143.0,361.3 143.3,361.5 143.6,361.6 143.9,361.6 144.2,361.8 144.5,361.7 144.8,361.9 145.1,361.7 145.4,361.7 145.7,361.6 146.0,361.7 146.3,361.4 146.6,359.9 146.7,358.8 146.8,358.2 147.0,358.8 147.1,360.1 147.4,361.4 147.7,361.7 148.0,361.7 148.3,361.7 148.6,361.6 148.9,362.0 149.2,361.9 149.5,361.8 149.8,362.0 150.1,362.0 150.4,361.7 150.7,361.9 151.0,361.8 151.3,361.7 151.6,361.7 151.9,361.7 152.2,361.6 152.5,361.6 152.8,361.6 153.1,361.6 153.4,361.6 153.7,361.5 154.0,361.8 154.3,361.5 154.6,361.5 154.9,361.5 155.2,361.6 155.5,361.2 155.8,361.1 156.1,361.2 156.4,361.1 156.7,361.0 157.0,360.7 157.3,360.4 157.6,360.2 157.9,360.3 158.2,360.0 158.5,359.8 158.8,359.7 159.1,359.4 159.4,359.4 159.7,359.5 160.0,359.2 160.3,359.4 160.6,359.2 160.9,359.2 161.2,359.1 161.5,359.5 161.8,360.0 162.1,360.2 162.4,360.6 162.6,360.7 162.9,360.9 163.2,360.9 163.5,361.4 163.8,361.3 164.1,361.4 164.4,361.6 164.7,361.7 165.0,361.6 165.3,361.7 165.6,361.8 165.9,361.7 166.2,361.9 166.5,361.6 166.8,361.9 167.1,361.8 167.4,361.9 167.7,362.0 168.0,361.7 168.3,361.8 168.6,362.0 168.9,362.0 169.2,361.9 169.5,362.0 169.8,361.9 170.1,362.0 170.4,361.9 170.7,361.8 171.0,361.8 171.3,361.7 171.6,361.7 171.9,361.7 172.2,362.1 172.5,361.8 172.8,361.9 173.1,361.8 173.4,362.1 173.7,361.9 174.0,361.8 174.3,362.0 174.6,362.0 174.9,362.0 175.2,361.6 175.5,361.5 175.8,360.6 175.9,359.6 176.1,359.2 176.2,359.8 176.4,360.7 176.7,361.7 177.0,361.9 177.3,361.7 177.6,362.0 177.9,361.8 178.2,361.8 178.4,361.7 178.7,361.9 179.0,361.8 179.3,361.7 179.6,361.9 179.9,361.8 180.2,361.8 180.5,361.9 180.8,361.9 181.1,361.8 181.4,362.0 181.7,361.9 182.0,361.6 182.3,361.7 182.6,361.4 182.9,361.5 183.2,361.0 183.5,361.0 183.8,361.1 184.1,360.9 184.4,360.8 184.7,360.7 185.0,360.8 185.3,361.2 185.6,361.0 185.9,361.2 186.2,361.5 186.5,361.7 186.8,361.7 187.1,361.9 187.4,361.8 187.7,361.6 188.0,361.6 188.3,361.2 188.6,361.3 188.9,361.9 189.2,362.0 189.5,361.9 189.8,361.9 190.1,361.8 190.4,361.8 190.7,361.7 191.0,361.8 191.3,361.9 191.6,362.1 191.9,362.1 192.2,361.9 192.5,362.0 192.8,361.9 193.1,362.0 193.4,362.0 193.7,362.1 194.0,362.1 194.2,362.0 194.5,362.0 194.8,361.8 195.1,361.9 195.4,361.9 195.7,361.8 196.0,361.8 196.3,361.9 196.6,361.8 196.9,361.9 197.2,361.8 197.5,362.1 197.8,361.9 198.1,361.8 198.4,361.7 198.7,361.6 199.0,361.2 199.2,361.2 199.3,360.9 199.4,360.6 199.6,360.3 199.8,360.3 199.9,360.6 200.1,360.8 200.2,361.0 200.5,361.2 200.8,360.7 201.1,360.4 201.4,360.8 201.7,361.0 202.0,361.2 202.3,360.9 202.6,360.9 202.9,361.3 203.2,361.2 203.5,361.3 203.8,361.4 204.1,361.3 204.4,361.7 204.7,361.5 205.0,361.7 205.3,361.4 205.6,361.4 205.9,361.4 206.2,361.2 206.5,361.3 206.8,361.0 207.1,361.0 207.4,361.0 207.7,361.1 208.0,361.5 208.3,361.6 208.6,361.6 208.9,361.6 209.2,361.5 209.5,361.9 209.8,361.7 210.1,361.7 210.3,361.8 210.6,362.0 210.9,361.8 211.2,361.7 211.5,362.1 211.8,361.7 212.1,362.0 212.4,361.8 212.7,361.8 213.0,361.8 213.3,361.9 213.6,362.1 213.9,362.0 214.2,361.9 214.5,361.7 214.8,361.8 215.1,361.8 215.4,362.0 215.7,362.0 216.0,361.5 216.3,361.4 216.6,361.5 216.9,361.3 217.2,361.5 217.5,361.7 217.8,361.9 218.1,361.6 218.4,361.8 218.7,361.5 219.0,361.6 219.3,361.3 219.6,361.4 219.9,361.4 220.2,361.3 220.5,361.0 220.8,361.2 221.1,360.9 221.4,361.1 221.7,361.2 222.0,361.3 222.3,360.9 222.6,360.8 222.9,360.9 223.2,361.3 223.5,361.3 223.8,361.7 224.1,361.7 224.4,361.6 224.7,361.6 225.0,361.6 225.3,361.8 225.6,362.1 225.9,362.0 226.1,362.0 226.4,362.1 226.7,361.9 227.0,362.0 227.3,362.0 227.6,362.0 227.9,361.7 228.2,361.9 228.5,361.5 228.8,361.4 229.1,361.7 229.4,361.9 229.7,362.0 230.0,361.8 230.3,361.9 230.6,362.0 230.9,361.8 231.2,362.1 231.5,361.9 231.8,361.9 232.1,361.9 232.4,362.0 232.7,361.8 233.0,361.8 233.3,361.8 233.6,361.8 233.9,362.0 234.2,362.1 234.5,361.7 234.8,361.8 235.1,361.7 235.4,361.4 235.7,361.2 236.0,361.3 236.3,361.7 236.6,361.8 236.9,361.7 237.2,361.8 237.5,362.1 237.8,362.0 238.1,362.1 238.4,362.1 238.7,362.0 239.0,361.8 239.3,361.7 239.6,362.0 239.9,361.8 240.2,361.5 240.5,361.1 240.8,361.5 241.1,361.7 241.4,361.6 241.7,361.6 242.0,361.9 242.2,361.7 242.5,361.4 242.8,361.4 243.1,361.6 243.4,361.4 243.7,361.4 244.0,361.2 244.3,361.3 244.6,361.4 244.9,361.5 245.2,361.4 245.5,361.5 245.8,361.7 246.1,361.6 246.4,361.6 246.7,361.8 247.0,361.7 247.3,362.0 247.6,362.0 247.9,362.0 248.2,362.1 248.5,361.8 248.8,361.9 249.1,361.9 249.4,361.8 249.7,362.1 250.0,361.8 250.3,362.2 250.6,362.0 250.9,362.2 251.2,361.8 251.5,362.1 251.8,362.2 252.1,362.1 252.4,362.0 252.7,362.0 253.0,362.0 253.3,362.1 253.6,362.0 253.9,362.0 254.2,361.9 254.5,362.0 254.8,362.0 255.1,362.2 255.4,362.1 255.7,361.9 256.0,362.1 256.3,361.9 256.6,362.0 256.9,362.0 257.2,362.1 257.5,361.8 257.8,361.8 258.0,361.9 258.3,362.0 258.6,361.9 258.9,362.0 259.2,362.1 259.5,362.0 259.8,361.9 260.1,362.0 260.4,362.0 260.7,362.0 261.0,361.9 261.3,362.1 261.6,361.9 261.9,362.2 262.2,362.0 262.5,362.1 262.8,362.2 263.1,362.2 263.4,361.8 263.7,362.2 264.0,361.8 264.3,362.2 264.6,362.1 264.9,361.9 265.2,362.1 265.5,362.0 265.8,362.0" fill="none" stroke="#2262d6" stroke-width="1.6" stroke-linejoin="round"/>
<path d="M299.9,108.8 300.2,108.9 300.5,108.9 300.8,109.0 301.1,108.8 301.4,108.8 301.7,108.8 302.0,108.8 302.3,109.0 302.6,108.8 302.9,108.9 303.2,108.8 303.5,108.8 303.8,108.9 304.1,109.0 304.4,108.9 304.7,108.7 305.0,108.8 305.3,108.8 305.6,109.0 305.9,109.0 306.2,109.0 306.5,109.0 306.8,109.0 307.1,109.0 307.4,109.0 307.7,108.8 307.9,109.0 308.2,108.9 308.5,109.0 308.8,108.9 309.1,108.9 309.4,108.8 309.7,108.9 310.0,108.8 310.3,108.8 310.6,109.0 310.9,109.0 311.2,109.0 311.5,108.9 311.8,108.9 312.1,109.0 312.4,108.8 312.7,108.9 313.0,108.9 313.3,108.8 313.6,108.8 313.9,108.9 314.2,108.8 314.5,108.9 314.8,108.9 315.1,108.9 315.4,108.8 315.7,108.9 316.0,108.8 316.3,108.8 316.6,108.8 316.9,108.8 317.2,108.8 317.5,108.9 317.8,109.0 318.1,108.8 318.4,108.9 318.7,109.0 319.0,108.7 319.3,108.8 319.6,109.0 319.9,109.0 320.2,108.9 320.5,108.8 320.8,108.8 321.1,109.0 321.4,109.0 321.7,109.0 322.0,108.8 322.3,109.0 322.6,108.8 322.9,108.9 323.2,108.8 323.5,109.0 323.8,108.9 324.0,108.9 324.3,108.8 324.6,108.9 324.9,108.9 325.2,108.9 325.5,108.8 325.8,108.9 326.1,108.8 326.4,108.8 326.7,108.8 327.0,108.9 327.3,108.7 327.6,108.8 327.9,108.7 328.2,108.9 328.5,108.9 328.8,108.9 329.1,108.7 329.4,108.8 329.7,108.8 330.0,108.7 330.3,108.7 330.6,109.0 330.9,108.7 331.2,108.8 331.5,108.8 331.8,108.8 332.1,108.7 332.4,108.8 332.7,108.8 333.0,108.9 333.3,108.7 333.6,108.7 333.9,108.8 334.2,108.9 334.5,108.8 334.8,108.8 335.1,108.8 335.4,108.7 335.7,108.6 336.0,108.7 336.3,108.9 336.6,108.8 336.9,108.6 337.2,108.7 337.5,108.8 337.8,108.6 338.1,108.7 338.4,108.6 338.7,108.5 339.0,108.5 339.3,108.4 339.6,108.5 339.8,108.3 340.1,108.4 340.4,108.2 340.7,108.4 341.0,108.2 341.3,108.0 341.6,108.1 341.9,107.8 342.2,107.7 342.5,107.4 342.8,107.0 343.1,106.4 343.4,105.5 343.7,104.2 344.0,102.7 344.3,100.3 344.6,97.9 344.9,94.9 345.2,92.7 345.5,91.9 345.8,92.6 346.1,94.9 346.4,97.7 346.7,100.4 347.0,102.7 347.3,104.5 347.6,105.4 347.9,106.4 348.2,106.9 348.5,107.5 348.8,107.6 349.1,108.0 349.4,108.0 349.7,108.0 350.0,108.1 350.3,108.2 350.6,108.5 350.9,108.3 351.2,108.5 351.5,108.5 351.8,108.5 352.1,108.7 352.4,108.5 352.7,108.7 353.0,108.7 353.3,108.8 353.6,108.7 353.9,108.8 354.2,108.7 354.5,108.7 354.8,108.8 355.1,108.8 355.4,108.9 355.6,108.6 355.9,108.6 356.2,108.8 356.5,108.9 356.8,108.8 357.1,108.7 357.4,108.9 357.7,108.7 358.0,108.7 358.3,108.7 358.6,108.7 358.9,108.9 359.2,108.7 359.5,108.9 359.8,108.9 360.1,109.0 360.4,108.9 360.7,108.8 361.0,108.9 361.3,108.9 361.6,108.9 361.9,108.8 362.2,108.9 362.5,108.7 362.8,108.8 363.1,109.0 363.4,108.8 363.7,108.8 364.0,108.9 364.3,108.8 364.6,108.7 364.9,108.7 365.2,108.8 365.5,108.8 365.8,109.0 366.1,108.8 366.4,108.9 366.7,108.9 367.0,108.8 367.3,109.0 367.6,108.9 367.9,108.8 368.2,108.8 368.5,108.8 368.8,109.0 369.1,108.9 369.4,108.7 369.7,108.8 370.0,108.8 370.3,108.7 370.6,108.9 370.9,108.7 371.2,108.9 371.4,108.7 371.7,108.7 372.0,108.9 372.3,108.8 372.6,108.9 372.9,108.8 373.2,108.8 373.5,108.9 373.8,108.7 374.1,108.9 374.4,108.8 374.7,108.8 375.0,108.9 375.3,108.6 375.6,108.9 375.9,108.7 376.2,108.9 376.5,108.6 376.8,108.6 377.1,108.7 377.4,108.8 377.7,108.6 378.0,108.7 378.3,108.7 378.6,108.5 378.9,108.6 379.2,108.3 379.5,108.4 379.8,108.4 380.1,108.1 380.4,107.9 380.7,107.5 381.0,107.4 381.3,106.9 381.6,106.5 381.9,105.9 382.2,105.3 382.5,105.1 382.8,105.0 383.1,105.1 383.4,105.5 383.7,105.9 384.0,106.5 384.3,106.9 384.6,107.3 384.9,107.6 385.2,107.8 385.5,108.2 385.8,108.3 386.1,108.3 386.4,108.5 386.7,108.6 387.0,108.6 387.3,108.7 387.5,108.8 387.8,108.7 388.1,108.8 388.4,108.7 388.7,108.8 389.0,108.7 389.3,108.9 389.6,108.8 389.9,108.9 390.2,108.7 390.5,108.8 390.8,108.9 391.1,108.9 391.4,108.8 391.7,108.7 392.0,108.8 392.3,108.8 392.6,108.9 392.9,108.9 393.2,109.0 393.5,108.8 393.8,108.8 394.1,108.9 394.4,108.9 394.7,108.7 395.0,108.8 395.3,108.7 395.6,108.8 395.9,108.8 396.2,109.0 396.5,108.8 396.8,109.0 397.1,108.8 397.4,108.8 397.7,109.0 398.0,108.7 398.3,108.7 398.6,108.7 398.9,108.7 399.2,108.8 399.5,108.8 399.8,108.7 400.1,108.7 400.4,108.9 400.7,108.7 401.0,108.8 401.3,108.9 401.6,109.0 401.9,108.9 402.2,108.9 402.5,108.9 402.8,108.9 403.1,108.9 403.3,108.7 403.6,108.7 403.9,108.9 404.2,108.8 404.5,108.8 404.8,108.9 405.1,108.7 405.4,108.9 405.7,108.8 406.0,108.8 406.3,108.7 406.6,108.7 406.9,108.8 407.2,108.8 407.5,108.9 407.8,108.7 408.1,108.8 408.4,108.6 408.7,108.7 409.0,108.6 409.3,108.7 409.6,108.7 409.9,108.5 410.2,108.5 410.5,108.3 410.8,108.1 411.1,107.8 411.4,107.6 411.7,107.2 412.0,106.9 412.3,106.3 412.6,105.8 412.9,105.5 413.2,105.2 413.5,105.4 413.8,105.8 414.1,106.2 414.4,106.9 414.7,107.2 415.0,107.5 415.3,108.0 415.6,108.3 415.9,108.3 416.2,108.4 416.5,108.4 416.8,108.4 417.1,108.6 417.4,108.6 417.7,108.6 418.0,108.8 418.3,108.6 418.6,108.7 418.9,108.8 419.1,108.8 419.4,108.6 419.7,108.8 420.0,108.8 420.3,108.8 420.6,108.9 420.9,108.8 421.2,108.8 421.5,108.8 421.8,108.7 422.1,108.8 422.4,108.8 422.7,108.8 423.0,108.7 423.3,108.6 423.6,108.8 423.9,108.7 424.2,108.7 424.5,108.6 424.8,108.7 425.1,108.7 425.4,108.8 425.7,108.7 426.0,108.6 426.3,108.7 426.6,108.6 426.9,108.6 427.2,108.6 427.5,108.5 427.8,108.5 428.1,108.4 428.4,108.2 428.7,108.1 429.0,107.8 429.3,107.7 429.6,107.5 429.9,107.3 430.2,107.2 430.5,106.6 430.8,106.4 431.1,106.2 431.4,105.9 431.7,105.8 432.0,105.4 432.3,105.6 432.6,105.5 432.9,105.7 433.2,105.8 433.5,106.1 433.8,106.6 434.1,106.8 434.4,107.1 434.7,107.3 435.0,107.4 435.2,107.8 435.5,107.9 435.8,108.1 436.1,108.2 436.4,108.3 436.7,108.5 437.0,108.3 437.3,108.6 437.6,108.4 437.9,108.7 438.2,108.6 438.5,108.6 438.8,108.8 439.1,108.7 439.4,108.7 439.7,108.6 440.0,108.8 440.3,108.8 440.6,108.7 440.9,108.6 441.2,108.7 441.5,108.9 441.8,108.9 442.1,108.8 442.4,108.6 442.7,108.9 443.0,108.7 443.3,108.9 443.6,108.8 443.9,108.9 444.2,108.7 444.5,108.9 444.8,108.9 445.1,108.7 445.4,108.8 445.7,108.8 446.0,108.9 446.3,109.0 446.6,108.9 446.9,108.8 447.2,108.8 447.5,108.7 447.8,108.8 448.1,108.7 448.4,108.9 448.7,108.7 449.0,108.8 449.3,108.7 449.6,108.8 449.9,108.7 450.2,108.7 450.5,108.8 450.8,108.9 451.0,108.9 451.3,108.8 451.6,108.9 451.9,108.7 452.2,108.8 452.5,108.8 452.8,108.6 453.1,108.6 453.4,108.6 453.7,108.6 454.0,108.6 454.3,108.5 454.6,108.3 454.9,107.9 455.2,107.9 455.5,107.5 455.8,107.1 456.1,106.9 456.4,106.5 456.7,106.4 457.0,106.6 457.3,106.9 457.6,107.1 457.9,107.5 458.2,107.7 458.5,108.1 458.8,108.4 459.1,108.3 459.4,108.6 459.7,108.6 460.0,108.6 460.3,108.6 460.6,108.7 460.9,108.8 461.2,108.8 461.5,108.6 461.8,108.9 462.1,108.8 462.4,108.8 462.7,108.7 463.0,108.8 463.3,108.9 463.6,108.7 463.9,108.7 464.2,108.9 464.5,108.8 464.8,108.7 465.1,108.9 465.4,108.7 465.7,108.8 466.0,108.9 466.3,108.9 466.6,109.0 466.8,108.7 467.1,108.9 467.4,109.0 467.7,108.8 468.0,108.9 468.3,108.8 468.6,108.9 468.9,109.0 469.2,108.8 469.5,108.9 469.8,108.8 470.1,108.9 470.4,108.9 470.7,108.9 471.0,108.9 471.3,108.8 471.6,108.9 471.9,108.7 472.2,108.8 472.5,108.6 472.8,108.7 473.1,108.7 473.4,108.5 473.7,108.5 474.0,108.3 474.3,108.1 474.6,107.9 474.9,107.8 475.2,107.6 475.5,107.4 475.8,107.4 476.1,107.7 476.4,107.6 476.7,107.9 477.0,108.0 477.3,108.0 477.6,108.4 477.9,108.4 478.2,108.4 478.5,108.7 478.8,108.7 479.1,108.6 479.4,108.9 479.7,108.6 480.0,108.7 480.3,108.7 480.6,108.9 480.9,108.9 481.2,108.9 481.5,108.8 481.8,108.9 482.1,108.7 482.4,109.0 482.7,108.7 482.9,108.7 483.2,108.9 483.5,108.9 483.8,108.9 484.1,108.8 484.4,109.0 484.7,108.8 485.0,108.8 485.3,108.7 485.6,109.0 485.9,108.7 486.2,108.8 486.5,108.8 486.8,109.0 487.1,108.9 487.4,108.9 487.7,108.9 488.0,108.7 488.3,108.9 488.6,108.7 488.9,108.9 489.2,108.9 489.5,108.7 489.8,108.8 490.1,108.7 490.4,108.6 490.7,108.8 491.0,108.6 491.3,108.5 491.6,108.5 491.9,108.3 492.2,108.3 492.5,108.2 492.8,108.1 493.1,107.6 493.4,107.7 493.7,107.3 494.0,107.3 494.3,107.4 494.6,107.5 494.9,107.6 495.2,108.0 495.5,108.1 495.8,108.2 496.1,108.4 496.4,108.4 496.7,108.7 497.0,108.8 497.3,108.7 497.6,108.7 497.9,108.7 498.2,108.7 498.5,108.8 498.7,108.7 499.0,108.8 499.3,108.9 499.6,108.8 499.9,108.7 500.2,108.7 500.5,108.9 500.8,108.8 501.1,108.9 501.4,108.9 501.7,108.9 502.0,108.8 502.3,108.9 502.6,108.8 502.9,108.9 503.2,109.0 503.5,108.7 503.8,108.8 504.1,109.0 504.4,109.0 504.7,109.0 505.0,109.0 505.3,108.7 505.6,108.9 505.9,108.8 506.2,109.0 506.5,108.8 506.8,108.9 507.1,108.9 507.4,108.8 507.7,108.9 508.0,109.0 508.3,108.8 508.6,108.8 508.9,108.8 509.2,108.8 509.5,108.8 509.8,109.0 510.1,109.0 510.4,108.8 510.7,108.8 511.0,108.8 511.3,108.9 511.6,108.8 511.9,108.7 512.2,108.8 512.5,108.7 512.8,108.7 513.1,108.7 513.4,108.8 513.7,108.8 514.0,108.6 514.3,108.5 514.5,108.5 514.8,108.2 515.1,108.1 515.4,108.1 515.7,107.9 516.0,107.8 516.3,107.8 516.6,107.7 516.9,107.9 517.2,108.0 517.5,108.1 517.8,108.2 518.1,108.6 518.4,108.4 518.7,108.6 519.0,108.6 519.3,108.6 519.6,108.8 519.9,108.9 520.2,108.9 520.5,108.8 520.8,108.8 521.1,108.8 521.4,108.7 521.7,108.8 522.0,108.9 522.3,108.8 522.6,108.9 522.9,108.8 523.2,108.8 523.5,109.0 523.8,108.9 524.1,108.8 524.4,109.0 524.7,108.9 525.0,108.9 525.3,108.9 525.6,109.0 525.9,108.9 526.2,108.9 526.5,108.8 526.8,109.0 527.1,109.0 527.4,108.9 527.7,109.0 528.0,108.9 528.3,108.9 528.6,108.8 528.9,108.8 529.2,108.8 529.5,109.0 529.8,108.9 530.1,108.8 530.4,108.8 530.6,108.9 530.9,109.0 531.2,109.0 531.5,109.0 531.8,108.8 532.1,108.9 532.4,109.0 532.7,108.9 533.0,108.9 533.3,108.8 533.6,108.9 533.9,108.9 534.2,109.0 534.5,109.0 534.8,109.0 535.1,108.8 535.4,109.0 535.7,109.0 536.0,108.8 536.3,108.9 536.6,108.9 536.9,108.8 537.2,108.8 537.5,109.0 537.8,108.8 538.1,108.9 538.4,108.7" fill="none" stroke="#9d7bd6" stroke-width="1.6" stroke-linejoin="round"/>
<path d="M299.9,172.0 300.2,172.3 300.5,172.2 300.8,172.4 301.1,172.1 301.4,172.1 301.7,172.3 302.0,172.3 302.3,172.1 302.6,172.3 302.9,172.1 303.2,172.3 303.5,172.0 303.8,172.1 304.1,172.3 304.4,172.1 304.7,172.1 305.0,172.3 305.3,172.2 305.6,172.0 305.9,172.2 306.2,172.2 306.5,172.0 306.8,172.2 307.1,172.0 307.4,172.1 307.7,172.0 307.9,172.1 308.2,172.4 308.5,172.1 308.8,172.4 309.1,172.2 309.4,172.2 309.7,172.3 310.0,172.3 310.3,172.0 310.6,172.2 310.9,172.2 311.2,172.1 311.5,172.0 311.8,172.3 312.1,172.2 312.4,172.1 312.7,172.2 313.0,172.1 313.3,172.3 313.6,172.2 313.9,172.0 314.2,172.3 314.5,172.0 314.8,172.1 315.1,172.0 315.4,172.3 315.7,172.0 316.0,172.2 316.3,172.0 316.6,172.2 316.9,172.2 317.2,172.2 317.5,172.1 317.8,172.2 318.1,172.1 318.4,172.2 318.7,172.0 319.0,172.2 319.3,172.1 319.6,172.3 319.9,172.3 320.2,172.0 320.5,172.0 320.8,172.2 321.1,172.2 321.4,172.0 321.7,172.2 322.0,172.3 322.3,172.1 322.6,172.1 322.9,172.2 323.2,172.3 323.5,172.0 323.8,172.1 324.0,172.0 324.3,172.2 324.6,172.1 324.9,172.0 325.2,172.1 325.5,171.9 325.8,172.0 326.1,172.3 326.4,172.1 326.7,171.9 327.0,172.2 327.3,171.9 327.6,171.8 327.9,171.6 328.2,171.3 328.5,170.5 328.6,170.2 328.8,169.5 328.9,169.1 329.1,168.5 329.4,169.3 329.4,169.5 329.6,170.2 329.7,170.7 330.0,171.3 330.3,171.6 330.6,171.7 330.9,171.9 331.2,171.7 331.5,171.2 331.8,169.8 331.9,168.2 332.1,165.9 332.1,165.9 332.2,164.6 332.4,165.8 332.4,165.8 332.6,168.5 332.7,169.7 333.0,171.1 333.3,171.8 333.6,171.8 333.9,171.8 334.2,171.8 334.5,171.8 334.8,171.8 335.1,172.0 335.4,171.8 335.7,171.9 336.0,171.9 336.3,172.0 336.6,171.9 336.9,172.1 337.2,171.8 337.5,171.9 337.8,171.9 338.1,171.7 338.4,171.7 338.7,171.7 339.0,171.9 339.3,171.6 339.6,171.8 339.8,171.6 340.1,171.7 340.4,171.6 340.7,171.4 341.0,171.6 341.3,171.4 341.6,171.2 341.9,170.8 342.2,170.7 342.5,170.3 342.8,170.0 343.1,169.5 343.4,168.5 343.7,167.0 344.0,165.6 344.3,163.8 344.6,161.5 344.9,159.2 345.2,157.9 345.5,157.1 345.8,157.9 346.1,159.5 346.4,161.5 346.7,163.7 347.0,165.2 347.3,167.0 347.6,168.0 347.9,168.7 348.2,169.2 348.5,169.2 348.8,168.1 349.1,163.4 349.2,157.1 349.4,148.2 349.5,143.1 349.7,148.2 349.8,157.5 350.0,163.8 350.3,169.1 350.6,170.4 350.9,170.7 351.2,171.4 351.5,171.3 351.8,171.7 352.1,171.8 352.4,171.8 352.7,171.9 353.0,171.7 353.3,171.8 353.6,171.8 353.9,172.1 354.2,171.7 354.5,171.8 354.8,172.1 355.1,172.1 355.4,172.1 355.6,172.2 355.9,172.0 356.2,172.1 356.5,172.0 356.8,172.2 357.1,171.9 357.4,172.0 357.7,172.1 358.0,172.2 358.3,172.0 358.6,172.1 358.9,172.3 359.2,172.0 359.5,172.0 359.8,171.9 360.1,172.2 360.4,172.1 360.7,172.1 361.0,172.1 361.3,171.9 361.6,172.0 361.9,172.0 362.2,172.0 362.5,172.3 362.8,172.0 363.1,171.9 363.4,172.3 363.7,172.1 364.0,171.9 364.3,172.2 364.6,172.2 364.9,172.2 365.2,172.2 365.5,172.1 365.8,172.0 366.1,172.2 366.4,172.2 366.7,172.2 367.0,172.0 367.3,172.1 367.6,172.2 367.9,172.1 368.2,172.2 368.5,172.1 368.8,172.2 369.1,172.1 369.4,172.1 369.7,172.2 370.0,172.0 370.3,172.0 370.6,172.2 370.9,172.0 371.2,172.2 371.4,172.0 371.7,172.3 372.0,172.1 372.3,172.0 372.6,172.1 372.9,172.2 373.2,172.1 373.5,172.1 373.8,172.0 374.1,172.2 374.4,171.9 374.7,172.2 375.0,171.8 375.3,172.0 375.6,171.8 375.9,171.9 376.2,172.0 376.5,172.1 376.8,171.9 377.1,171.9 377.4,171.9 377.7,171.8 378.0,171.7 378.3,171.4 378.6,170.8 378.8,169.9 378.9,169.4 379.1,170.0 379.2,170.7 379.5,171.1 379.8,171.0 380.1,171.1 380.4,171.2 380.7,170.7 381.0,170.5 381.3,170.6 381.6,170.1 381.9,170.2 382.2,169.7 382.5,169.7 382.8,169.6 383.1,169.4 383.4,169.7 383.7,169.7 384.0,170.0 384.3,170.1 384.6,170.1 384.9,170.6 385.2,170.8 385.5,170.7 385.8,171.1 386.1,171.1 386.4,171.3 386.7,171.5 387.0,171.4 387.3,171.4 387.5,170.6 387.7,170.3 387.8,169.8 388.0,170.3 388.1,170.7 388.4,171.7 388.7,171.6 389.0,171.9 389.3,171.7 389.6,171.9 389.9,171.2 390.2,170.8 390.5,171.4 390.8,171.8 391.1,171.8 391.4,172.1 391.7,172.2 392.0,172.0 392.3,172.2 392.6,172.0 392.9,172.0 393.2,172.1 393.5,172.3 393.8,172.2 394.1,172.1 394.4,171.9 394.7,172.1 395.0,171.9 395.3,171.9 395.6,172.0 395.9,171.9 396.2,171.7 396.5,171.2 396.6,170.8 396.8,170.5 396.9,170.8 397.1,171.2 397.4,171.7 397.7,172.2 398.0,172.0 398.3,172.0 398.6,172.2 398.9,172.1 399.2,172.3 399.5,172.2 399.8,172.3 400.1,172.0 400.4,172.3 400.7,172.1 401.0,172.2 401.3,172.0 401.6,172.0 401.9,172.0 402.2,172.0 402.5,172.3 402.8,172.0 403.1,172.0 403.3,172.2 403.6,172.0 403.9,172.0 404.2,172.0 404.5,172.0 404.8,171.9 405.1,172.2 405.4,172.1 405.7,171.9 406.0,172.0 406.3,171.5 406.6,171.0 406.9,171.6 407.2,171.7 407.5,172.1 407.8,172.1 408.1,171.8 408.4,172.1 408.7,171.9 409.0,171.9 409.3,172.1 409.6,171.9 409.9,171.7 410.2,171.6 410.5,171.8 410.8,171.5 411.1,171.4 411.4,171.1 411.7,170.9 412.0,170.6 412.3,170.2 412.6,169.7 412.9,169.6 413.2,169.3 413.5,169.3 413.8,169.7 414.1,169.8 414.4,170.6 414.7,170.7 415.0,171.0 415.3,171.2 415.6,171.4 415.9,171.6 416.2,171.8 416.5,171.6 416.8,171.8 417.1,171.8 417.4,172.1 417.7,171.9 418.0,171.9 418.3,172.0 418.6,171.7 418.9,171.3 419.1,169.7 419.3,168.2 419.4,167.5 419.6,168.2 419.7,169.7 420.0,171.4 420.3,171.9 420.6,172.0 420.9,171.9 421.2,172.1 421.5,172.2 421.8,172.2 422.1,172.1 422.4,172.0 422.7,172.0 423.0,172.2 423.3,172.0 423.6,172.1 423.9,171.9 424.2,171.9 424.5,171.8 424.8,172.1 425.1,171.9 425.4,171.9 425.7,172.0 426.0,172.0 426.3,172.0 426.6,171.9 426.9,171.7 427.2,171.9 427.5,171.5 427.8,171.6 428.1,171.7 428.4,171.6 428.7,171.3 429.0,171.3 429.3,170.9 429.6,170.7 429.9,170.6 430.2,170.7 430.5,170.1 430.8,170.1 431.1,169.9 431.4,169.7 431.7,169.8 432.0,169.4 432.3,169.4 432.6,169.7 432.9,169.3 433.2,169.3 433.5,169.1 433.8,169.1 434.1,169.4 434.4,170.2 434.7,170.7 435.0,170.8 435.2,171.1 435.5,170.9 435.8,171.3 436.1,171.2 436.4,171.7 436.7,171.4 437.0,171.5 437.3,171.7 437.6,171.8 437.9,171.6 438.2,171.9 438.5,171.7 438.8,171.9 439.1,171.8 439.4,172.1 439.7,172.1 440.0,172.1 440.3,171.9 440.6,171.9 440.9,172.2 441.2,172.2 441.5,172.2 441.8,172.0 442.1,172.2 442.4,172.1 442.7,172.2 443.0,172.1 443.3,172.2 443.6,172.1 443.9,172.0 444.2,172.1 444.5,171.9 444.8,172.2 445.1,172.0 445.4,172.0 445.7,172.2 446.0,172.1 446.3,172.0 446.6,172.2 446.9,172.2 447.2,172.0 447.5,172.0 447.8,171.7 448.1,171.6 448.4,170.6 448.5,169.4 448.7,168.9 448.8,169.2 449.0,170.2 449.3,171.5 449.6,171.7 449.9,172.1 450.2,172.2 450.5,172.2 450.8,172.1 451.0,172.0 451.3,172.0 451.6,171.9 451.9,172.0 452.2,171.9 452.5,172.2 452.8,172.1 453.1,172.0 453.4,172.2 453.7,171.9 454.0,172.1 454.3,172.0 454.6,171.9 454.9,171.8 455.2,171.7 455.5,171.7 455.8,171.6 456.1,171.3 456.4,171.3 456.7,170.9 457.0,171.1 457.3,171.2 457.6,171.2 457.9,171.1 458.2,171.6 458.5,171.5 458.8,171.6 459.1,172.0 459.4,171.7 459.7,171.9 460.0,171.8 460.3,171.9 460.6,171.4 460.9,171.1 461.2,171.5 461.5,171.8 461.8,172.1 462.1,172.0 462.4,172.0 462.7,172.0 463.0,172.1 463.3,172.0 463.6,172.1 463.9,172.2 464.2,172.2 464.5,172.0 464.8,172.1 465.1,172.0 465.4,172.1 465.7,172.2 466.0,171.9 466.3,172.2 466.6,172.3 466.8,172.0 467.1,172.1 467.4,172.2 467.7,172.0 468.0,172.0 468.3,172.2 468.6,172.1 468.9,172.0 469.2,172.0 469.5,172.1 469.8,172.2 470.1,171.9 470.4,172.1 470.7,172.0 471.0,171.8 471.3,171.7 471.6,171.5 471.8,170.9 471.9,170.6 472.0,170.4 472.2,169.8 472.4,170.3 472.5,170.4 472.7,170.8 472.8,170.9 473.1,171.2 473.4,171.0 473.7,170.6 474.0,170.9 474.3,171.0 474.6,171.3 474.9,171.2 475.2,171.3 475.5,171.3 475.8,171.5 476.1,171.4 476.4,171.7 476.7,171.6 477.0,171.8 477.3,171.6 477.6,171.8 477.9,171.6 478.2,171.6 478.5,171.5 478.8,171.6 479.1,171.4 479.4,171.2 479.7,171.5 480.0,171.2 480.3,171.4 480.6,171.4 480.9,171.5 481.2,171.6 481.5,172.0 481.8,171.7 482.1,172.0 482.4,172.0 482.7,172.2 482.9,172.2 483.2,171.9 483.5,172.3 483.8,172.0 484.1,171.9 484.4,172.0 484.7,172.2 485.0,172.1 485.3,172.2 485.6,172.0 485.9,172.1 486.2,172.0 486.5,172.3 486.8,172.1 487.1,172.2 487.4,172.1 487.7,171.9 488.0,171.9 488.3,171.9 488.6,172.0 488.9,171.5 489.2,171.4 489.5,171.5 489.8,171.7 490.1,171.9 490.4,171.9 490.7,172.1 491.0,172.0 491.3,171.8 491.6,171.7 491.9,171.6 492.2,171.5 492.5,171.5 492.8,171.5 493.1,171.1 493.4,171.1 493.7,171.1 494.0,171.2 494.3,171.0 494.6,171.1 494.9,171.2 495.2,170.8 495.5,171.0 495.8,171.3 496.1,171.6 496.4,172.0 496.7,171.9 497.0,172.1 497.3,171.9 497.6,171.9 497.9,172.0 498.2,172.1 498.5,172.2 498.7,171.9 499.0,172.2 499.3,172.0 499.6,172.3 499.9,172.2 500.2,172.2 500.5,171.9 500.8,171.8 501.1,171.5 501.4,171.5 501.7,171.5 502.0,171.8 502.3,171.9 502.6,172.3 502.9,172.1 503.2,172.0 503.5,172.0 503.8,172.1 504.1,172.0 504.4,172.3 504.7,172.3 505.0,172.3 505.3,172.0 505.6,172.2 505.9,172.3 506.2,172.1 506.5,172.2 506.8,171.9 507.1,172.1 507.4,172.1 507.7,171.8 508.0,171.4 508.3,171.5 508.6,171.6 508.9,171.8 509.2,172.1 509.5,172.0 509.8,172.2 510.1,172.2 510.4,172.2 510.7,172.1 511.0,172.2 511.3,172.1 511.6,171.9 511.9,171.9 512.2,171.9 512.5,172.0 512.8,171.4 513.1,171.5 513.4,171.5 513.7,171.6 514.0,172.1 514.3,172.1 514.5,171.8 514.8,171.9 515.1,171.7 515.4,171.6 515.7,171.5 516.0,171.8 516.3,171.5 516.6,171.5 516.9,171.5 517.2,171.6 517.5,171.9 517.8,171.6 518.1,171.7 518.4,171.7 518.7,172.0 519.0,171.8 519.3,172.2 519.6,172.2 519.9,172.0 520.2,172.1 520.5,172.2 520.8,172.1 521.1,172.1 521.4,172.3 521.7,172.3 522.0,172.0 522.3,172.3 522.6,172.0 522.9,172.3 523.2,172.1 523.5,172.4 523.8,172.0 524.1,172.1 524.4,172.1 524.7,172.2 525.0,172.3 525.3,172.0 525.6,172.0 525.9,172.1 526.2,172.0 526.5,172.4 526.8,172.2 527.1,172.1 527.4,172.1 527.7,172.1 528.0,172.2 528.3,172.1 528.6,172.2 528.9,172.1 529.2,172.3 529.5,172.4 529.8,172.3 530.1,172.0 530.4,172.2 530.6,172.3 530.9,172.0 531.2,172.4 531.5,172.0 531.8,172.0 532.1,172.0 532.4,172.3 532.7,172.0 533.0,172.2 533.3,172.2 533.6,172.2 533.9,172.4 534.2,172.2 534.5,172.0 534.8,172.1 535.1,172.1 535.4,172.3 535.7,172.1 536.0,172.3 536.3,172.2 536.6,172.2 536.9,172.2 537.2,172.1 537.5,172.3 537.8,172.2 538.1,172.3 538.4,172.3" fill="none" stroke="#2262d6" stroke-width="1.6" stroke-linejoin="round"/>
<path d="M299.9,261.8 300.2,261.4 300.5,261.7 300.8,261.5 301.1,261.8 301.4,261.4 301.7,261.7 302.0,261.7 302.3,261.7 302.6,261.8 302.9,261.5 303.2,261.5 303.5,261.7 303.8,261.5 304.1,261.5 304.4,261.5 304.7,261.7 305.0,261.7 305.3,261.7 305.6,261.5 305.9,261.8 306.2,261.6 306.5,261.5 306.8,261.6 307.1,261.6 307.4,261.4 307.7,261.6 307.9,261.5 308.2,261.6 308.5,261.8 308.8,261.6 309.1,261.5 309.4,261.7 309.7,261.8 310.0,261.6 310.3,261.8 310.6,261.4 310.9,261.4 311.2,261.5 311.5,261.8 311.8,261.7 312.1,261.7 312.4,261.5 312.7,261.6 313.0,261.7 313.3,261.4 313.6,261.4 313.9,261.4 314.2,261.6 314.5,261.7 314.8,261.6 315.1,261.5 315.4,261.6 315.7,261.4 316.0,261.8 316.3,261.5 316.6,261.5 316.9,261.5 317.2,261.7 317.5,261.5 317.8,261.7 318.1,261.5 318.4,261.5 318.7,261.4 319.0,261.7 319.3,261.7 319.6,261.6 319.9,261.4 320.2,261.6 320.5,261.5 320.8,261.7 321.1,261.7 321.4,261.6 321.7,261.5 322.0,261.4 322.3,261.7 322.6,261.7 322.9,261.4 323.2,261.5 323.5,261.5 323.8,261.7 324.0,261.3 324.3,261.3 324.6,261.6 324.9,261.5 325.2,261.5 325.5,261.6 325.8,261.5 326.1,261.5 326.4,261.3 326.7,261.2 327.0,261.1 327.3,261.2 327.6,261.2 327.9,260.9 328.2,260.3 328.5,259.2 328.6,258.8 328.8,257.3 328.9,256.9 329.1,256.1 329.4,257.1 329.4,257.4 329.6,258.9 329.7,258.9 330.0,260.4 330.3,260.7 330.6,260.9 330.9,260.9 331.2,260.6 331.5,260.2 331.8,258.3 331.9,256.2 332.1,253.2 332.1,252.8 332.2,251.1 332.4,252.7 332.4,253.1 332.6,256.4 332.7,258.1 333.0,260.2 333.3,260.8 333.6,261.3 333.9,261.3 334.2,261.1 334.5,261.5 334.8,261.4 335.1,261.3 335.4,261.5 335.7,261.2 336.0,261.2 336.3,261.3 336.6,261.5 336.9,261.4 337.2,261.4 337.5,261.5 337.8,261.3 338.1,261.5 338.4,261.1 338.7,261.4 339.0,261.1 339.3,261.3 339.6,261.4 339.8,261.3 340.1,261.2 340.4,261.1 340.7,261.2 341.0,260.9 341.3,260.8 341.6,260.8 341.9,260.7 342.2,260.4 342.5,260.3 342.8,259.9 343.1,259.3 343.4,258.8 343.7,257.9 344.0,256.6 344.3,255.4 344.6,253.8 344.9,252.1 345.2,250.8 345.5,250.3 345.8,250.6 346.1,251.9 346.4,253.7 346.7,254.9 347.0,256.6 347.3,257.6 347.6,258.4 347.9,258.6 348.2,258.9 348.5,258.4 348.8,257.1 349.1,250.1 349.2,240.9 349.4,228.3 349.5,221.2 349.7,228.3 349.8,240.9 350.0,250.5 350.3,257.4 350.6,259.3 350.9,260.0 351.2,260.6 351.5,260.7 351.8,260.9 352.1,261.0 352.4,261.1 352.7,261.1 353.0,261.2 353.3,261.3 353.6,261.2 353.9,261.3 354.2,261.5 354.5,261.5 354.8,261.3 355.1,261.6 355.4,261.2 355.6,261.3 355.9,261.6 356.2,261.3 356.5,261.5 356.8,261.6 357.1,261.5 357.4,261.4 357.7,261.3 358.0,261.5 358.3,261.5 358.6,261.6 358.9,261.4 359.2,261.6 359.5,261.5 359.8,261.6 360.1,261.6 360.4,261.4 360.7,261.7 361.0,261.5 361.3,261.5 361.6,261.7 361.9,261.5 362.2,261.5 362.5,261.4 362.8,261.4 363.1,261.6 363.4,261.5 363.7,261.6 364.0,261.6 364.3,261.6 364.6,261.5 364.9,261.7 365.2,261.5 365.5,261.4 365.8,261.7 366.1,261.7 366.4,261.4 366.7,261.7 367.0,261.6 367.3,261.4 367.6,261.6 367.9,261.7 368.2,261.4 368.5,261.6 368.8,261.4 369.1,261.4 369.4,261.7 369.7,261.7 370.0,261.6 370.3,261.6 370.6,261.5 370.9,261.5 371.2,261.6 371.4,261.6 371.7,261.6 372.0,261.5 372.3,261.6 372.6,261.5 372.9,261.6 373.2,261.6 373.5,261.6 373.8,261.4 374.1,261.4 374.4,261.7 374.7,261.4 375.0,261.5 375.3,261.3 375.6,261.3 375.9,261.3 376.2,261.5 376.5,261.3 376.8,261.4 377.1,261.2 377.4,261.4 377.7,261.3 378.0,261.0 378.3,260.8 378.6,259.9 378.8,259.2 378.9,258.6 379.1,259.0 379.2,260.0 379.5,260.8 379.8,260.6 380.1,260.6 380.4,260.6 380.7,260.5 381.0,260.2 381.3,260.0 381.6,259.9 381.9,259.8 382.2,259.6 382.5,259.4 382.8,259.4 383.1,259.0 383.4,259.4 383.7,259.2 384.0,259.4 384.3,259.6 384.6,259.8 384.9,260.1 385.2,260.2 385.5,260.3 385.8,260.5 386.1,260.7 386.4,261.0 386.7,260.8 387.0,260.7 387.3,260.9 387.5,260.2 387.7,259.5 387.8,259.1 388.0,259.4 388.1,260.0 388.4,261.1 388.7,261.2 389.0,261.1 389.3,261.3 389.6,261.0 389.9,260.7 390.2,260.1 390.5,260.9 390.8,261.2 391.1,261.2 391.4,261.3 391.7,261.6 392.0,261.3 392.3,261.3 392.6,261.4 392.9,261.7 393.2,261.6 393.5,261.7 393.8,261.3 394.1,261.5 394.4,261.3 394.7,261.5 395.0,261.6 395.3,261.5 395.6,261.5 395.9,261.5 396.2,261.2 396.5,260.5 396.6,259.8 396.8,259.6 396.9,260.1 397.1,260.7 397.4,261.4 397.7,261.5 398.0,261.5 398.3,261.5 398.6,261.3 398.9,261.6 399.2,261.4 399.5,261.7 399.8,261.7 400.1,261.4 400.4,261.7 400.7,261.6 401.0,261.7 401.3,261.4 401.6,261.4 401.9,261.4 402.2,261.7 402.5,261.4 402.8,261.5 403.1,261.6 403.3,261.5 403.6,261.6 403.9,261.6 404.2,261.5 404.5,261.7 404.8,261.6 405.1,261.6 405.4,261.5 405.7,261.4 406.0,261.1 406.3,261.0 406.6,260.6 406.9,260.6 407.2,261.2 407.5,261.2 407.8,261.2 408.1,261.4 408.4,261.4 408.7,261.2 409.0,261.4 409.3,261.4 409.6,261.2 409.9,261.3 410.2,261.2 410.5,261.2 410.8,261.2 411.1,260.9 411.4,260.5 411.7,260.1 412.0,259.9 412.3,259.5 412.6,259.5 412.9,259.1 413.2,259.1 413.5,259.2 413.8,259.3 414.1,259.8 414.4,260.0 414.7,260.3 415.0,260.4 415.3,260.7 415.6,261.0 415.9,261.0 416.2,261.2 416.5,261.4 416.8,261.3 417.1,261.4 417.4,261.3 417.7,261.1 418.0,261.2 418.3,261.4 418.6,261.0 418.9,260.6 419.1,258.7 419.3,257.5 419.4,256.3 419.6,257.1 419.7,258.9 420.0,260.5 420.3,261.2 420.6,261.4 420.9,261.3 421.2,261.5 421.5,261.2 421.8,261.5 422.1,261.5 422.4,261.5 422.7,261.3 423.0,261.6 423.3,261.6 423.6,261.4 423.9,261.3 424.2,261.4 424.5,261.5 424.8,261.4 425.1,261.4 425.4,261.5 425.7,261.4 426.0,261.3 426.3,261.5 426.6,261.4 426.9,261.0 427.2,261.2 427.5,261.0 427.8,261.0 428.1,260.9 428.4,261.0 428.7,260.8 429.0,260.6 429.3,260.4 429.6,260.3 429.9,260.2 430.2,260.1 430.5,259.9 430.8,259.7 431.1,259.6 431.4,259.3 431.7,259.5 432.0,259.1 432.3,259.1 432.6,259.2 432.9,259.3 433.2,259.0 433.5,258.7 433.8,258.3 434.1,258.8 434.4,259.8 434.7,259.9 435.0,260.4 435.2,260.3 435.5,260.6 435.8,260.8 436.1,261.0 436.4,261.1 436.7,261.0 437.0,260.9 437.3,261.3 437.6,261.3 437.9,261.4 438.2,261.2 438.5,261.4 438.8,261.4 439.1,261.5 439.4,261.5 439.7,261.5 440.0,261.6 440.3,261.3 440.6,261.6 440.9,261.5 441.2,261.6 441.5,261.3 441.8,261.5 442.1,261.6 442.4,261.7 442.7,261.5 443.0,261.6 443.3,261.3 443.6,261.3 443.9,261.4 444.2,261.7 444.5,261.6 444.8,261.5 445.1,261.7 445.4,261.5 445.7,261.4 446.0,261.7 446.3,261.6 446.6,261.7 446.9,261.6 447.2,261.4 447.5,261.6 447.8,261.2 448.1,260.8 448.4,259.6 448.5,258.7 448.7,257.6 448.8,258.6 449.0,259.7 449.3,260.8 449.6,261.2 449.9,261.5 450.2,261.4 450.5,261.6 450.8,261.3 451.0,261.5 451.3,261.6 451.6,261.4 451.9,261.4 452.2,261.5 452.5,261.4 452.8,261.5 453.1,261.6 453.4,261.4 453.7,261.3 454.0,261.6 454.3,261.2 454.6,261.4 454.9,261.2 455.2,261.3 455.5,261.0 455.8,261.1 456.1,260.8 456.4,260.7 456.7,260.3 457.0,260.5 457.3,260.4 457.6,260.7 457.9,260.7 458.2,260.8 458.5,260.9 458.8,261.0 459.1,261.1 459.4,261.2 459.7,261.3 460.0,261.4 460.3,261.3 460.6,260.8 460.9,260.8 461.2,260.8 461.5,261.2 461.8,261.4 462.1,261.5 462.4,261.5 462.7,261.6 463.0,261.4 463.3,261.4 463.6,261.5 463.9,261.5 464.2,261.4 464.5,261.6 464.8,261.4 465.1,261.5 465.4,261.5 465.7,261.6 466.0,261.4 466.3,261.6 466.6,261.5 466.8,261.7 467.1,261.4 467.4,261.5 467.7,261.6 468.0,261.7 468.3,261.6 468.6,261.7 468.9,261.5 469.2,261.4 469.5,261.4 469.8,261.5 470.1,261.5 470.4,261.4 470.7,261.3 471.0,261.5 471.3,261.1 471.6,260.6 471.8,260.5 471.9,260.0 472.0,259.7 472.2,259.3 472.4,259.6 472.5,259.8 472.7,260.1 472.8,260.3 473.1,260.8 473.4,260.0 473.7,259.9 474.0,260.0 474.3,260.6 474.6,260.8 474.9,260.8 475.2,260.5 475.5,260.9 475.8,260.7 476.1,260.8 476.4,261.2 476.7,261.2 477.0,261.0 477.3,261.3 477.6,261.1 477.9,261.2 478.2,261.2 478.5,260.9 478.8,260.8 479.1,260.7 479.4,260.7 479.7,261.0 480.0,260.6 480.3,260.8 480.6,261.1 480.9,260.9 481.2,261.2 481.5,261.4 481.8,261.5 482.1,261.5 482.4,261.2 482.7,261.3 482.9,261.6 483.2,261.5 483.5,261.5 483.8,261.6 484.1,261.6 484.4,261.4 484.7,261.7 485.0,261.4 485.3,261.7 485.6,261.4 485.9,261.3 486.2,261.6 486.5,261.6 486.8,261.6 487.1,261.3 487.4,261.7 487.7,261.7 488.0,261.6 488.3,261.5 488.6,261.1 488.9,260.9 489.2,260.6 489.5,260.8 489.8,261.2 490.1,261.5 490.4,261.4 490.7,261.5 491.0,261.2 491.3,261.1 491.6,261.3 491.9,261.3 492.2,261.0 492.5,260.8 492.8,260.9 493.1,260.6 493.4,260.6 493.7,260.7 494.0,260.7 494.3,260.8 494.6,260.6 494.9,260.6 495.2,260.4 495.5,260.2 495.8,260.4 496.1,260.9 496.4,261.2 496.7,261.4 497.0,261.6 497.3,261.3 497.6,261.5 497.9,261.4 498.2,261.3 498.5,261.4 498.7,261.5 499.0,261.6 499.3,261.4 499.6,261.7 499.9,261.6 500.2,261.5 500.5,261.6 500.8,261.2 501.1,260.9 501.4,260.9 501.7,261.1 502.0,261.4 502.3,261.3 502.6,261.3 502.9,261.6 503.2,261.7 503.5,261.5 503.8,261.7 504.1,261.4 504.4,261.4 504.7,261.5 505.0,261.7 505.3,261.4 505.6,261.6 505.9,261.6 506.2,261.3 506.5,261.7 506.8,261.4 507.1,261.6 507.4,261.5 507.7,261.1 508.0,260.7 508.3,260.5 508.6,260.7 508.9,261.3 509.2,261.4 509.5,261.3 509.8,261.4 510.1,261.6 510.4,261.5 510.7,261.5 511.0,261.4 511.3,261.4 511.6,261.4 511.9,261.4 512.2,261.3 512.5,261.0 512.8,261.1 513.1,260.8 513.4,260.7 513.7,261.3 514.0,261.2 514.3,261.4 514.5,261.3 514.8,261.1 515.1,261.2 515.4,261.2 515.7,261.2 516.0,261.1 516.3,261.0 516.6,261.0 516.9,260.9 517.2,261.2 517.5,261.2 517.8,261.1 518.1,261.2 518.4,261.3 518.7,261.4 519.0,261.3 519.3,261.4 519.6,261.5 519.9,261.7 520.2,261.7 520.5,261.6 520.8,261.5 521.1,261.6 521.4,261.5 521.7,261.6 522.0,261.7 522.3,261.7 522.6,261.7 522.9,261.7 523.2,261.7 523.5,261.6 523.8,261.5 524.1,261.5 524.4,261.6 524.7,261.6 525.0,261.6 525.3,261.4 525.6,261.8 525.9,261.5 526.2,261.5 526.5,261.7 526.8,261.5 527.1,261.7 527.4,261.4 527.7,261.6 528.0,261.4 528.3,261.6 528.6,261.7 528.9,261.5 529.2,261.6 529.5,261.7 529.8,261.6 530.1,261.5 530.4,261.7 530.6,261.7 530.9,261.8 531.2,261.8 531.5,261.7 531.8,261.5 532.1,261.7 532.4,261.7 532.7,261.6 533.0,261.7 533.3,261.4 533.6,261.7 533.9,261.7 534.2,261.5 534.5,261.4 534.8,261.7 535.1,261.4 535.4,261.5 535.7,261.8 536.0,261.7 536.3,261.5 536.6,261.6 536.9,261.5 537.2,261.7 537.5,261.6 537.8,261.6 538.1,261.5 538.4,261.8" fill="none" stroke="#c49a14" stroke-width="1.6" stroke-linejoin="round"/>
<path d="M299.9,314.7 300.2,314.8 300.5,314.8 300.8,314.8 301.1,314.8 301.4,314.9 301.7,314.7 302.0,314.8 302.3,314.6 302.6,314.7 302.9,314.7 303.2,314.6 303.5,314.9 303.8,314.7 304.1,314.9 304.4,315.0 304.7,314.7 305.0,314.9 305.3,314.9 305.6,314.9 305.9,314.6 306.2,314.8 306.5,314.8 306.8,314.7 307.1,314.7 307.4,314.7 307.7,314.7 307.9,314.9 308.2,314.7 308.5,314.8 308.8,314.8 309.1,315.0 309.4,314.7 309.7,314.6 310.0,315.0 310.3,314.9 310.6,314.9 310.9,314.8 311.2,314.7 311.5,314.6 311.8,314.7 312.1,314.8 312.4,314.6 312.7,314.9 313.0,314.9 313.3,314.6 313.6,314.9 313.9,314.8 314.2,314.9 314.5,314.8 314.8,314.9 315.1,314.8 315.4,314.8 315.7,314.8 316.0,314.6 316.3,314.6 316.6,314.7 316.9,314.7 317.2,314.7 317.5,314.8 317.8,314.8 318.1,314.7 318.4,314.7 318.7,314.8 319.0,315.0 319.3,314.9 319.6,314.8 319.9,314.9 320.2,314.7 320.5,314.6 320.8,314.6 321.1,314.6 321.4,314.6 321.7,314.8 322.0,314.9 322.3,314.6 322.6,314.8 322.9,314.9 323.2,314.9 323.5,314.6 323.8,314.8 324.0,314.6 324.3,314.6 324.6,314.5 324.9,314.7 325.2,314.9 325.5,314.5 325.8,314.5 326.1,314.6 326.4,314.5 326.7,314.6 327.0,314.7 327.3,314.5 327.6,314.2 327.9,314.0 328.2,313.6 328.5,312.7 328.6,312.4 328.8,310.8 328.9,310.5 329.1,309.6 329.4,310.6 329.4,310.7 329.6,312.0 329.7,312.5 330.0,313.7 330.3,313.9 330.6,314.3 330.9,314.3 331.2,314.0 331.5,313.4 331.8,311.2 331.9,309.6 332.1,306.4 332.1,306.1 332.2,304.2 332.4,305.9 332.4,306.1 332.6,309.4 332.7,311.3 333.0,313.4 333.3,314.0 333.6,314.5 333.9,314.4 334.2,314.5 334.5,314.6 334.8,314.6 335.1,314.6 335.4,314.6 335.7,314.6 336.0,314.5 336.3,314.7 336.6,314.7 336.9,314.7 337.2,314.5 337.5,314.6 337.8,314.7 338.1,314.7 338.4,314.4 338.7,314.5 339.0,314.4 339.3,314.6 339.6,314.5 339.8,314.4 340.1,314.4 340.4,314.4 340.7,314.5 341.0,314.4 341.3,314.2 341.6,314.2 341.9,314.2 342.2,313.8 342.5,314.0 342.8,313.4 343.1,313.3 343.4,312.6 343.7,312.3 344.0,311.3 344.3,310.1 344.6,309.1 344.9,308.1 345.2,307.2 345.5,306.8 345.8,307.1 346.1,307.9 346.4,309.0 346.7,310.0 347.0,310.9 347.3,311.7 347.6,312.0 347.9,312.1 348.2,312.1 348.5,311.3 348.8,309.3 349.1,299.4 349.2,286.6 349.4,268.8 349.5,258.6 349.7,269.2 349.8,286.7 350.0,299.7 350.3,309.7 350.6,312.1 350.9,312.8 351.2,313.3 351.5,313.8 351.8,314.1 352.1,314.0 352.4,314.4 352.7,314.2 353.0,314.3 353.3,314.4 353.6,314.3 353.9,314.3 354.2,314.4 354.5,314.4 354.8,314.4 355.1,314.7 355.4,314.7 355.6,314.7 355.9,314.6 356.2,314.7 356.5,314.5 356.8,314.8 357.1,314.6 357.4,314.5 357.7,314.6 358.0,314.6 358.3,314.8 358.6,314.6 358.9,314.5 359.2,314.6 359.5,314.5 359.8,314.9 360.1,314.7 360.4,314.8 360.7,314.8 361.0,314.7 361.3,314.8 361.6,314.7 361.9,314.5 362.2,314.9 362.5,314.7 362.8,314.8 363.1,314.7 363.4,314.9 363.7,314.6 364.0,314.6 364.3,314.6 364.6,314.7 364.9,314.9 365.2,314.7 365.5,314.9 365.8,314.6 366.1,314.9 366.4,314.6 366.7,314.9 367.0,314.6 367.3,314.8 367.6,314.8 367.9,314.9 368.2,314.7 368.5,314.9 368.8,314.6 369.1,314.9 369.4,314.7 369.7,314.7 370.0,314.9 370.3,314.7 370.6,314.8 370.9,314.8 371.2,314.6 371.4,314.6 371.7,314.7 372.0,314.6 372.3,314.8 372.6,314.7 372.9,314.5 373.2,314.8 373.5,314.9 373.8,314.7 374.1,314.6 374.4,314.6 374.7,314.9 375.0,314.6 375.3,314.7 375.6,314.5 375.9,314.8 376.2,314.8 376.5,314.5 376.8,314.5 377.1,314.6 377.4,314.7 377.7,314.6 378.0,314.2 378.3,313.9 378.6,313.3 378.8,312.2 378.9,311.9 379.1,312.2 379.2,313.1 379.5,313.7 379.8,314.1 380.1,313.9 380.4,313.6 380.7,313.6 381.0,313.4 381.3,313.4 381.6,313.4 381.9,313.3 382.2,313.1 382.5,312.8 382.8,312.8 383.1,312.8 383.4,312.8 383.7,313.0 384.0,313.1 384.3,313.2 384.6,313.2 384.9,313.3 385.2,313.5 385.5,313.6 385.8,314.0 386.1,313.8 386.4,313.9 386.7,314.2 387.0,314.0 387.3,313.8 387.5,313.0 387.7,312.3 387.8,311.9 388.0,312.6 388.1,313.2 388.4,314.0 388.7,314.4 389.0,314.4 389.3,314.3 389.6,314.2 389.9,313.8 390.2,313.2 390.5,313.8 390.8,314.4 391.1,314.6 391.4,314.8 391.7,314.7 392.0,314.6 392.3,314.6 392.6,314.6 392.9,314.6 393.2,314.9 393.5,314.9 393.8,314.6 394.1,314.8 394.4,314.8 394.7,314.9 395.0,314.8 395.3,314.7 395.6,314.5 395.9,314.5 396.2,314.6 396.5,313.8 396.6,313.1 396.8,312.5 396.9,313.1 397.1,313.8 397.4,314.4 397.7,314.5 398.0,314.6 398.3,314.7 398.6,314.5 398.9,314.5 399.2,314.9 399.5,314.7 399.8,314.7 400.1,314.8 400.4,314.7 400.7,314.8 401.0,314.7 401.3,314.5 401.6,314.5 401.9,314.6 402.2,314.7 402.5,314.9 402.8,314.7 403.1,314.6 403.3,314.9 403.6,314.6 403.9,314.7 404.2,314.8 404.5,314.8 404.8,314.6 405.1,314.6 405.4,314.5 405.7,314.8 406.0,314.6 406.3,314.1 406.6,313.4 406.9,314.0 407.2,314.4 407.5,314.4 407.8,314.5 408.1,314.8 408.4,314.7 408.7,314.6 409.0,314.4 409.3,314.6 409.6,314.7 409.9,314.4 410.2,314.3 410.5,314.5 410.8,314.1 411.1,314.1 411.4,314.0 411.7,313.7 412.0,313.3 412.3,313.0 412.6,312.7 412.9,312.4 413.2,312.5 413.5,312.4 413.8,312.7 414.1,313.2 414.4,313.2 414.7,313.5 415.0,313.7 415.3,314.1 415.6,314.1 415.9,314.2 416.2,314.4 416.5,314.6 416.8,314.7 417.1,314.3 417.4,314.5 417.7,314.3 418.0,314.4 418.3,314.5 418.6,314.2 418.9,313.8 419.1,311.8 419.3,310.3 419.4,309.3 419.6,310.3 419.7,312.0 420.0,314.0 420.3,314.4 420.6,314.3 420.9,314.4 421.2,314.8 421.5,314.6 421.8,314.7 422.1,314.7 422.4,314.8 422.7,314.5 423.0,314.5 423.3,314.5 423.6,314.7 423.9,314.7 424.2,314.6 424.5,314.5 424.8,314.6 425.1,314.5 425.4,314.4 425.7,314.8 426.0,314.7 426.3,314.6 426.6,314.4 426.9,314.6 427.2,314.5 427.5,314.3 427.8,314.5 428.1,314.4 428.4,314.0 428.7,313.9 429.0,313.8 429.3,313.9 429.6,313.6 429.9,313.4 430.2,313.3 430.5,313.3 430.8,313.1 431.1,313.0 431.4,312.7 431.7,312.8 432.0,312.7 432.3,312.6 432.6,312.8 432.9,312.6 433.2,312.4 433.5,311.9 433.8,311.6 434.1,312.4 434.4,312.9 434.7,313.2 435.0,313.6 435.2,313.8 435.5,313.8 435.8,313.9 436.1,314.3 436.4,314.4 436.7,314.3 437.0,314.5 437.3,314.5 437.6,314.3 437.9,314.5 438.2,314.4 438.5,314.6 438.8,314.6 439.1,314.4 439.4,314.6 439.7,314.5 440.0,314.7 440.3,314.8 440.6,314.8 440.9,314.5 441.2,314.7 441.5,314.7 441.8,314.9 442.1,314.6 442.4,314.5 442.7,314.6 443.0,314.6 443.3,314.8 443.6,314.9 443.9,314.7 444.2,314.8 444.5,314.7 444.8,314.6 445.1,314.7 445.4,314.8 445.7,314.6 446.0,314.8 446.3,314.7 446.6,314.6 446.9,314.7 447.2,314.8 447.5,314.5 447.8,314.4 448.1,314.2 448.4,312.9 448.5,311.5 448.7,310.7 448.8,311.3 449.0,312.7 449.3,314.2 449.6,314.4 449.9,314.6 450.2,314.5 450.5,314.8 450.8,314.8 451.0,314.8 451.3,314.8 451.6,314.8 451.9,314.6 452.2,314.7 452.5,314.5 452.8,314.8 453.1,314.6 453.4,314.7 453.7,314.8 454.0,314.5 454.3,314.5 454.6,314.7 454.9,314.4 455.2,314.5 455.5,314.5 455.8,314.0 456.1,314.1 456.4,314.1 456.7,313.9 457.0,313.9 457.3,313.7 457.6,313.9 457.9,314.2 458.2,314.0 458.5,314.4 458.8,314.3 459.1,314.4 459.4,314.6 459.7,314.5 460.0,314.5 460.3,314.5 460.6,313.9 460.9,313.9 461.2,314.0 461.5,314.4 461.8,314.4 462.1,314.8 462.4,314.7 462.7,314.7 463.0,314.9 463.3,314.7 463.6,314.5 463.9,314.7 464.2,314.5 464.5,314.6 464.8,314.9 465.1,314.9 465.4,314.8 465.7,314.8 466.0,314.7 466.3,314.8 466.6,314.7 466.8,314.8 467.1,314.8 467.4,314.7 467.7,314.6 468.0,314.7 468.3,314.6 468.6,314.9 468.9,314.8 469.2,314.6 469.5,314.5 469.8,314.7 470.1,314.8 470.4,314.5 470.7,314.7 471.0,314.5 471.3,314.2 471.6,314.0 471.8,313.5 471.9,312.9 472.0,312.8 472.2,312.1 472.4,312.7 472.5,312.9 472.7,313.3 472.8,313.5 473.1,313.8 473.4,313.2 473.7,313.1 474.0,313.3 474.3,313.8 474.6,313.8 474.9,313.8 475.2,313.9 475.5,313.9 475.8,314.1 476.1,314.2 476.4,314.4 476.7,314.2 477.0,314.5 477.3,314.3 477.6,314.5 477.9,314.5 478.2,314.4 478.5,314.2 478.8,314.2 479.1,314.2 479.4,314.2 479.7,313.9 480.0,314.0 480.3,314.3 480.6,314.4 480.9,314.2 481.2,314.3 481.5,314.3 481.8,314.5 482.1,314.7 482.4,314.7 482.7,314.5 482.9,314.5 483.2,314.5 483.5,314.7 483.8,314.6 484.1,314.6 484.4,314.7 484.7,314.6 485.0,314.5 485.3,314.5 485.6,314.8 485.9,314.8 486.2,314.5 486.5,314.9 486.8,314.9 487.1,314.5 487.4,314.9 487.7,314.5 488.0,314.5 488.3,314.5 488.6,314.5 488.9,314.2 489.2,313.8 489.5,314.1 489.8,314.5 490.1,314.4 490.4,314.4 490.7,314.7 491.0,314.3 491.3,314.4 491.6,314.3 491.9,314.4 492.2,314.1 492.5,314.0 492.8,314.1 493.1,314.1 493.4,313.8 493.7,314.0 494.0,313.8 494.3,314.1 494.6,314.1 494.9,313.9 495.2,313.5 495.5,313.4 495.8,314.0 496.1,314.2 496.4,314.5 496.7,314.6 497.0,314.5 497.3,314.6 497.6,314.8 497.9,314.8 498.2,314.6 498.5,314.7 498.7,314.6 499.0,314.8 499.3,314.8 499.6,314.9 499.9,314.7 500.2,314.5 500.5,314.7 500.8,314.4 501.1,314.2 501.4,314.0 501.7,314.2 502.0,314.4 502.3,314.5 502.6,314.6 502.9,314.8 503.2,314.6 503.5,314.7 503.8,314.9 504.1,314.9 504.4,314.9 504.7,314.8 505.0,314.8 505.3,314.7 505.6,314.9 505.9,314.7 506.2,314.6 506.5,314.9 506.8,314.6 507.1,314.9 507.4,314.8 507.7,314.3 508.0,313.9 508.3,313.8 508.6,314.2 508.9,314.4 509.2,314.4 509.5,314.7 509.8,314.9 510.1,314.7 510.4,314.8 510.7,314.9 511.0,314.7 511.3,314.6 511.6,314.7 511.9,314.6 512.2,314.7 512.5,314.3 512.8,314.2 513.1,313.8 513.4,313.9 513.7,314.5 514.0,314.7 514.3,314.4 514.5,314.5 514.8,314.7 515.1,314.3 515.4,314.5 515.7,314.3 516.0,314.3 516.3,314.2 516.6,314.1 516.9,314.3 517.2,314.5 517.5,314.3 517.8,314.5 518.1,314.3 518.4,314.7 518.7,314.4 519.0,314.5 519.3,314.6 519.6,314.7 519.9,314.7 520.2,314.8 520.5,314.8 520.8,314.9 521.1,314.6 521.4,314.6 521.7,314.8 522.0,314.9 522.3,314.7 522.6,314.9 522.9,314.7 523.2,314.9 523.5,314.8 523.8,314.9 524.1,315.0 524.4,314.9 524.7,314.9 525.0,314.9 525.3,314.7 525.6,314.9 525.9,314.8 526.2,314.8 526.5,314.6 526.8,314.9 527.1,314.9 527.4,315.0 527.7,314.8 528.0,314.7 528.3,314.8 528.6,314.9 528.9,314.7 529.2,314.7 529.5,314.9 529.8,315.0 530.1,314.8 530.4,314.9 530.6,314.8 530.9,314.6 531.2,314.9 531.5,314.8 531.8,314.9 532.1,314.7 532.4,314.9 532.7,314.7 533.0,314.8 533.3,315.0 533.6,314.9 533.9,314.6 534.2,314.9 534.5,315.0 534.8,315.0 535.1,314.7 535.4,314.6 535.7,314.8 536.0,314.9 536.3,314.6 536.6,314.8 536.9,314.6 537.2,314.6 537.5,315.0 537.8,314.8 538.1,314.7 538.4,314.8" fill="none" stroke="#e0414f" stroke-width="1.6" stroke-linejoin="round"/>
<path d="M299.9,355.6 300.2,355.7 300.5,355.8 300.8,355.5 301.1,355.7 301.4,355.7 301.7,355.7 302.0,355.4 302.3,355.4 302.6,355.5 302.9,355.7 303.2,355.5 303.5,355.6 303.8,355.5 304.1,355.7 304.4,355.8 304.7,355.5 305.0,355.8 305.3,355.4 305.6,355.7 305.9,355.7 306.2,355.4 306.5,355.7 306.8,355.6 307.1,355.8 307.4,355.5 307.7,355.6 307.9,355.7 308.2,355.6 308.5,355.5 308.8,355.4 309.1,355.8 309.4,355.6 309.7,355.8 310.0,355.4 310.3,355.7 310.6,355.7 310.9,355.8 311.2,355.4 311.5,355.5 311.8,355.4 312.1,355.7 312.4,355.5 312.7,355.8 313.0,355.5 313.3,355.7 313.6,355.7 313.9,355.5 314.2,355.6 314.5,355.8 314.8,355.6 315.1,355.5 315.4,355.5 315.7,355.7 316.0,355.5 316.3,355.6 316.6,355.6 316.9,355.6 317.2,355.4 317.5,355.6 317.8,355.7 318.1,355.5 318.4,355.5 318.7,355.7 319.0,355.6 319.3,355.5 319.6,355.4 319.9,355.7 320.2,355.5 320.5,355.6 320.8,355.5 321.1,355.6 321.4,355.7 321.7,355.5 322.0,355.4 322.3,355.7 322.6,355.7 322.9,355.4 323.2,355.6 323.5,355.6 323.8,355.5 324.0,355.6 324.3,355.7 324.6,355.6 324.9,355.5 325.2,355.4 325.5,355.4 325.8,355.4 326.1,355.3 326.4,355.3 326.7,355.6 327.0,355.4 327.3,355.5 327.6,355.4 327.9,355.2 328.2,354.5 328.5,354.0 328.6,353.3 328.8,352.5 328.9,352.4 329.1,351.6 329.4,352.2 329.4,352.2 329.6,353.3 329.7,353.8 330.0,354.5 330.3,355.0 330.6,355.0 330.9,354.9 331.2,354.9 331.5,354.6 331.8,352.7 331.9,351.2 332.1,348.5 332.1,348.3 332.2,347.0 332.4,348.3 332.4,348.7 332.6,351.3 332.7,352.6 333.0,354.5 333.3,354.9 333.6,355.1 333.9,355.1 334.2,355.4 334.5,355.4 334.8,355.4 335.1,355.6 335.4,355.3 335.7,355.4 336.0,355.6 336.3,355.4 336.6,355.5 336.9,355.3 337.2,355.6 337.5,355.5 337.8,355.3 338.1,355.3 338.4,355.4 338.7,355.3 339.0,355.3 339.3,355.2 339.6,355.3 339.8,355.3 340.1,355.3 340.4,355.1 340.7,355.1 341.0,355.0 341.3,355.0 341.6,354.9 341.9,354.6 342.2,354.5 342.5,354.6 342.8,354.2 343.1,353.6 343.4,353.1 343.7,352.0 344.0,350.9 344.3,349.7 344.6,348.3 344.9,346.5 345.2,345.6 345.5,345.3 345.8,345.6 346.1,346.9 346.4,347.9 346.7,349.7 347.0,350.9 347.3,351.6 347.6,352.5 347.9,353.0 348.2,352.9 348.5,352.7 348.8,351.4 349.1,344.6 349.2,335.7 349.4,323.6 349.5,316.8 349.7,323.7 349.8,336.0 350.0,344.7 350.3,351.7 350.6,353.5 350.9,354.3 351.2,354.7 351.5,354.7 351.8,354.7 352.1,355.1 352.4,355.0 352.7,355.3 353.0,355.4 353.3,355.1 353.6,355.4 353.9,355.2 354.2,355.3 354.5,355.3 354.8,355.4 355.1,355.3 355.4,355.4 355.6,355.3 355.9,355.3 356.2,355.3 356.5,355.5 356.8,355.4 357.1,355.3 357.4,355.4 357.7,355.4 358.0,355.7 358.3,355.6 358.6,355.4 358.9,355.4 359.2,355.5 359.5,355.5 359.8,355.5 360.1,355.5 360.4,355.6 360.7,355.4 361.0,355.5 361.3,355.4 361.6,355.5 361.9,355.4 362.2,355.6 362.5,355.7 362.8,355.7 363.1,355.5 363.4,355.6 363.7,355.4 364.0,355.6 364.3,355.6 364.6,355.5 364.9,355.5 365.2,355.6 365.5,355.6 365.8,355.7 366.1,355.4 366.4,355.4 366.7,355.4 367.0,355.4 367.3,355.3 367.6,355.4 367.9,355.5 368.2,355.5 368.5,355.7 368.8,355.5 369.1,355.4 369.4,355.7 369.7,355.4 370.0,355.5 370.3,355.6 370.6,355.4 370.9,355.7 371.2,355.6 371.4,355.4 371.7,355.7 372.0,355.7 372.3,355.5 372.6,355.4 372.9,355.3 373.2,355.6 373.5,355.6 373.8,355.5 374.1,355.6 374.4,355.6 374.7,355.4 375.0,355.3 375.3,355.6 375.6,355.6 375.9,355.4 376.2,355.3 376.5,355.2 376.8,355.3 377.1,355.5 377.4,355.2 377.7,355.2 378.0,355.0 378.3,354.9 378.6,353.9 378.8,353.4 378.9,352.9 379.1,353.3 379.2,353.8 379.5,354.6 379.8,354.9 380.1,354.8 380.4,354.6 380.7,354.3 381.0,354.1 381.3,354.0 381.6,354.0 381.9,353.8 382.2,353.4 382.5,353.4 382.8,353.2 383.1,353.2 383.4,353.1 383.7,353.4 384.0,353.6 384.3,353.8 384.6,353.8 384.9,354.0 385.2,354.3 385.5,354.2 385.8,354.7 386.1,354.8 386.4,354.7 386.7,354.8 387.0,354.9 387.3,355.0 387.5,354.3 387.7,353.5 387.8,353.4 388.0,353.8 388.1,354.4 388.4,355.0 388.7,355.2 389.0,355.2 389.3,355.5 389.6,355.2 389.9,355.0 390.2,354.1 390.5,354.6 390.8,355.3 391.1,355.3 391.4,355.3 391.7,355.3 392.0,355.3 392.3,355.4 392.6,355.3 392.9,355.4 393.2,355.5 393.5,355.4 393.8,355.4 394.1,355.4 394.4,355.4 394.7,355.5 395.0,355.6 395.3,355.3 395.6,355.5 395.9,355.4 396.2,355.4 396.5,354.7 396.6,354.0 396.8,353.8 396.9,354.2 397.1,354.8 397.4,355.4 397.7,355.3 398.0,355.4 398.3,355.5 398.6,355.4 398.9,355.6 399.2,355.5 399.5,355.7 399.8,355.3 400.1,355.6 400.4,355.4 400.7,355.5 401.0,355.4 401.3,355.5 401.6,355.6 401.9,355.7 402.2,355.3 402.5,355.5 402.8,355.4 403.1,355.6 403.3,355.4 403.6,355.4 403.9,355.6 404.2,355.3 404.5,355.7 404.8,355.4 405.1,355.7 405.4,355.3 405.7,355.2 406.0,355.3 406.3,354.8 406.6,354.5 406.9,354.8 407.2,355.2 407.5,355.2 407.8,355.2 408.1,355.2 408.4,355.4 408.7,355.5 409.0,355.4 409.3,355.3 409.6,355.3 409.9,355.4 410.2,355.3 410.5,354.9 410.8,355.0 411.1,354.7 411.4,354.7 411.7,354.4 412.0,354.0 412.3,353.7 412.6,353.5 412.9,352.9 413.2,353.0 413.5,352.9 413.8,353.2 414.1,353.8 414.4,354.0 414.7,354.2 415.0,354.5 415.3,354.7 415.6,354.8 415.9,355.2 416.2,355.1 416.5,355.0 416.8,355.3 417.1,355.3 417.4,355.4 417.7,355.2 418.0,355.2 418.3,355.3 418.6,355.1 418.9,354.6 419.1,353.2 419.3,351.8 419.4,351.0 419.6,351.8 419.7,353.1 420.0,354.9 420.3,355.1 420.6,355.1 420.9,355.2 421.2,355.4 421.5,355.3 421.8,355.4 422.1,355.5 422.4,355.5 422.7,355.3 423.0,355.3 423.3,355.2 423.6,355.2 423.9,355.3 424.2,355.5 424.5,355.5 424.8,355.3 425.1,355.2 425.4,355.4 425.7,355.5 426.0,355.1 426.3,355.3 426.6,355.5 426.9,355.2 427.2,355.2 427.5,355.2 427.8,355.1 428.1,354.9 428.4,355.0 428.7,354.8 429.0,354.7 429.3,354.6 429.6,354.5 429.9,354.3 430.2,354.2 430.5,353.7 430.8,353.5 431.1,353.4 431.4,353.4 431.7,353.4 432.0,353.4 432.3,353.0 432.6,353.0 432.9,353.1 433.2,353.1 433.5,352.7 433.8,352.5 434.1,353.0 434.4,353.8 434.7,354.1 435.0,354.5 435.2,354.4 435.5,354.6 435.8,355.0 436.1,355.0 436.4,354.9 436.7,355.1 437.0,355.1 437.3,355.0 437.6,355.1 437.9,355.3 438.2,355.2 438.5,355.2 438.8,355.4 439.1,355.3 439.4,355.4 439.7,355.4 440.0,355.2 440.3,355.6 440.6,355.4 440.9,355.3 441.2,355.5 441.5,355.4 441.8,355.3 442.1,355.3 442.4,355.3 442.7,355.4 443.0,355.4 443.3,355.4 443.6,355.4 443.9,355.6 444.2,355.5 444.5,355.5 444.8,355.3 445.1,355.7 445.4,355.3 445.7,355.6 446.0,355.6 446.3,355.5 446.6,355.4 446.9,355.5 447.2,355.5 447.5,355.5 447.8,355.1 448.1,354.9 448.4,353.9 448.5,352.7 448.7,352.2 448.8,352.7 449.0,353.6 449.3,355.2 449.6,355.2 449.9,355.3 450.2,355.5 450.5,355.6 450.8,355.6 451.0,355.7 451.3,355.4 451.6,355.4 451.9,355.5 452.2,355.6 452.5,355.5 452.8,355.5 453.1,355.5 453.4,355.3 453.7,355.5 454.0,355.4 454.3,355.5 454.6,355.2 454.9,355.2 455.2,355.2 455.5,355.1 455.8,355.0 456.1,354.8 456.4,354.5 456.7,354.7 457.0,354.3 457.3,354.6 457.6,354.5 457.9,354.6 458.2,354.8 458.5,354.9 458.8,355.0 459.1,355.4 459.4,355.4 459.7,355.3 460.0,355.3 460.3,355.2 460.6,354.8 460.9,354.5 461.2,354.9 461.5,355.4 461.8,355.6 462.1,355.5 462.4,355.6 462.7,355.5 463.0,355.6 463.3,355.6 463.6,355.7 463.9,355.4 464.2,355.5 464.5,355.4 464.8,355.6 465.1,355.5 465.4,355.6 465.7,355.6 466.0,355.5 466.3,355.4 466.6,355.5 466.8,355.6 467.1,355.4 467.4,355.7 467.7,355.7 468.0,355.4 468.3,355.5 468.6,355.6 468.9,355.3 469.2,355.6 469.5,355.5 469.8,355.6 470.1,355.3 470.4,355.5 470.7,355.2 471.0,355.3 471.3,355.2 471.6,354.9 471.8,354.4 471.9,353.9 472.0,353.7 472.2,353.3 472.4,353.6 472.5,353.8 472.7,354.3 472.8,354.7 473.1,354.8 473.4,354.2 473.7,354.1 474.0,354.1 474.3,354.7 474.6,354.8 474.9,354.8 475.2,354.9 475.5,354.8 475.8,355.0 476.1,354.8 476.4,355.0 476.7,355.1 477.0,355.2 477.3,355.0 477.6,355.1 477.9,355.2 478.2,355.0 478.5,355.1 478.8,355.1 479.1,354.9 479.4,354.7 479.7,354.8 480.0,355.0 480.3,354.8 480.6,354.8 480.9,355.2 481.2,355.1 481.5,355.1 481.8,355.3 482.1,355.5 482.4,355.4 482.7,355.3 482.9,355.3 483.2,355.5 483.5,355.4 483.8,355.7 484.1,355.7 484.4,355.7 484.7,355.7 485.0,355.4 485.3,355.6 485.6,355.5 485.9,355.5 486.2,355.5 486.5,355.4 486.8,355.4 487.1,355.3 487.4,355.6 487.7,355.4 488.0,355.6 488.3,355.5 488.6,355.2 488.9,355.2 489.2,354.6 489.5,354.9 489.8,355.3 490.1,355.3 490.4,355.5 490.7,355.3 491.0,355.1 491.3,355.4 491.6,355.4 491.9,355.1 492.2,355.1 492.5,355.0 492.8,354.7 493.1,354.8 493.4,354.7 493.7,354.7 494.0,354.5 494.3,354.7 494.6,354.6 494.9,354.8 495.2,354.3 495.5,354.1 495.8,354.6 496.1,355.1 496.4,355.1 496.7,355.4 497.0,355.5 497.3,355.5 497.6,355.4 497.9,355.6 498.2,355.3 498.5,355.4 498.7,355.7 499.0,355.4 499.3,355.4 499.6,355.4 499.9,355.5 500.2,355.7 500.5,355.3 500.8,355.4 501.1,355.3 501.4,354.8 501.7,355.1 502.0,355.3 502.3,355.5 502.6,355.7 502.9,355.7 503.2,355.5 503.5,355.4 503.8,355.6 504.1,355.7 504.4,355.5 504.7,355.5 505.0,355.5 505.3,355.7 505.6,355.5 505.9,355.4 506.2,355.5 506.5,355.6 506.8,355.4 507.1,355.6 507.4,355.3 507.7,355.3 508.0,354.9 508.3,354.8 508.6,355.1 508.9,355.2 509.2,355.4 509.5,355.5 509.8,355.6 510.1,355.4 510.4,355.3 510.7,355.4 511.0,355.5 511.3,355.5 511.6,355.4 511.9,355.5 512.2,355.6 512.5,355.4 512.8,354.8 513.1,354.6 513.4,355.0 513.7,355.3 514.0,355.2 514.3,355.4 514.5,355.3 514.8,355.5 515.1,355.4 515.4,355.1 515.7,355.3 516.0,354.9 516.3,355.0 516.6,355.2 516.9,355.0 517.2,355.3 517.5,355.2 517.8,355.3 518.1,355.4 518.4,355.4 518.7,355.3 519.0,355.4 519.3,355.4 519.6,355.4 519.9,355.4 520.2,355.6 520.5,355.5 520.8,355.4 521.1,355.7 521.4,355.6 521.7,355.7 522.0,355.6 522.3,355.5 522.6,355.7 522.9,355.6 523.2,355.6 523.5,355.6 523.8,355.5 524.1,355.5 524.4,355.4 524.7,355.6 525.0,355.6 525.3,355.4 525.6,355.8 525.9,355.7 526.2,355.5 526.5,355.4 526.8,355.4 527.1,355.6 527.4,355.7 527.7,355.6 528.0,355.7 528.3,355.5 528.6,355.5 528.9,355.5 529.2,355.4 529.5,355.4 529.8,355.7 530.1,355.4 530.4,355.4 530.6,355.6 530.9,355.5 531.2,355.6 531.5,355.4 531.8,355.4 532.1,355.6 532.4,355.8 532.7,355.5 533.0,355.4 533.3,355.7 533.6,355.7 533.9,355.6 534.2,355.7 534.5,355.5 534.8,355.5 535.1,355.5 535.4,355.5 535.7,355.6 536.0,355.7 536.3,355.7 536.6,355.7 536.9,355.5 537.2,355.7 537.5,355.5 537.8,355.4 538.1,355.6 538.4,355.8" fill="none" stroke="#484848" stroke-width="1.6" stroke-linejoin="round"/>
<rect x="27.30" y="7.40" width="238.50" height="357.60" fill="none" stroke="#111" stroke-width="1.3"/>
<path d="M26.65,365.00H266.45" stroke="#151515" stroke-width="1.75"/>
<path d="M27.30,365.00V371.90M42.21,365.00V368.20M57.11,365.00V371.90M72.02,365.00V368.20M86.92,365.00V371.90M101.83,365.00V368.20M116.74,365.00V371.90M131.64,365.00V368.20M146.55,365.00V371.90M161.46,365.00V368.20M176.36,365.00V371.90M191.27,365.00V368.20M206.18,365.00V371.90M221.08,365.00V368.20M235.99,365.00V371.90M250.89,365.00V368.20M265.80,365.00V371.90" stroke="#111" stroke-width="1.3" fill="none"/>
<text x="27.30" y="392.5" font-size="20.5" text-anchor="middle">10</text>
<text x="57.11" y="392.5" font-size="20.5" text-anchor="middle">20</text>
<text x="86.92" y="392.5" font-size="20.5" text-anchor="middle">30</text>
<text x="116.74" y="392.5" font-size="20.5" text-anchor="middle">40</text>
<text x="146.55" y="392.5" font-size="20.5" text-anchor="middle">50</text>
<text x="176.36" y="392.5" font-size="20.5" text-anchor="middle">60</text>
<text x="206.18" y="392.5" font-size="20.5" text-anchor="middle">70</text>
<text x="235.99" y="392.5" font-size="20.5" text-anchor="middle">80</text>
<text x="265.80" y="392.5" font-size="20.5" text-anchor="middle">90</text>
<text x="107.50" y="419.3" font-size="21" style="font-weight:normal">2</text>
<text transform="translate(117.20,419.5) scale(1.2,1)" font-size="21" style="font-weight:normal">θ</text>
<text transform="translate(130.00,420.6) scale(1.3,1)" font-size="26" style="font-weight:normal">/</text>
<text x="140.60" y="419.8" font-size="20.5" letter-spacing="0.6">degree</text>
<text transform="translate(19.20,248.40) rotate(-90)" font-size="21.5">Intensity(a.u.)</text>
<rect x="299.90" y="7.40" width="238.50" height="357.60" fill="none" stroke="#111" stroke-width="1.3"/>
<path d="M299.25,365.00H539.05" stroke="#151515" stroke-width="1.75"/>
<path d="M299.90,365.00V371.90M314.81,365.00V368.20M329.71,365.00V371.90M344.62,365.00V368.20M359.52,365.00V371.90M374.43,365.00V368.20M389.34,365.00V371.90M404.24,365.00V368.20M419.15,365.00V371.90M434.06,365.00V368.20M448.96,365.00V371.90M463.87,365.00V368.20M478.77,365.00V371.90M493.68,365.00V368.20M508.59,365.00V371.90M523.49,365.00V368.20M538.40,365.00V371.90" stroke="#111" stroke-width="1.3" fill="none"/>
<text x="299.90" y="392.5" font-size="20.5" text-anchor="middle">10</text>
<text x="329.71" y="392.5" font-size="20.5" text-anchor="middle">20</text>
<text x="359.52" y="392.5" font-size="20.5" text-anchor="middle">30</text>
<text x="389.34" y="392.5" font-size="20.5" text-anchor="middle">40</text>
<text x="419.15" y="392.5" font-size="20.5" text-anchor="middle">50</text>
<text x="448.96" y="392.5" font-size="20.5" text-anchor="middle">60</text>
<text x="478.77" y="392.5" font-size="20.5" text-anchor="middle">70</text>
<text x="508.59" y="392.5" font-size="20.5" text-anchor="middle">80</text>
<text x="538.40" y="392.5" font-size="20.5" text-anchor="middle">90</text>
<text x="380.10" y="419.3" font-size="21" style="font-weight:normal">2</text>
<text transform="translate(389.80,419.5) scale(1.2,1)" font-size="21" style="font-weight:normal">θ</text>
<text transform="translate(402.60,420.6) scale(1.3,1)" font-size="26" style="font-weight:normal">/</text>
<text x="413.20" y="419.8" font-size="20.5" letter-spacing="0.6">degree</text>
<text transform="translate(292.80,248.80) rotate(-90)" font-size="21.5">Intensity(a.u.)</text>
<text transform="translate(77.50,104.20) rotate(-90)" font-size="16.3">A(101)</text>
<text transform="translate(114.50,113.40) rotate(-90)" font-size="16.3">A(004)</text>
<text transform="translate(146.20,109.80) rotate(-90)" font-size="16.3">A(200)</text>
<text transform="translate(157.50,113.80) rotate(-90)" font-size="16.3">A(105)</text>
<text transform="translate(172.10,113.80) rotate(-90)" font-size="16.3">A(211)</text>
<text transform="translate(189.00,116.60) rotate(-90)" font-size="16.3">A(204)</text>
<text transform="translate(57.60,183.00) rotate(-90)" font-size="16.3">M(004)</text>
<text transform="translate(73.80,181.60) rotate(-90)" font-size="16.3">M(005)</text>
<text transform="translate(92.20,190.50) rotate(-90)" font-size="16.3">M(006)</text>
<text transform="translate(104.30,189.30) rotate(-90)" font-size="16.3">M(111)</text>
<text transform="translate(163.30,188.80) rotate(-90)" font-size="16.3">M(210)</text>
<text transform="translate(188.60,190.10) rotate(-90)" font-size="16.3">M(300)</text>
<text transform="translate(63.90,264.90) rotate(-90)" font-size="16.3">Q(100)</text>
<text transform="translate(84.00,246.20) rotate(-90)" font-size="16.3">Q(101)</text>
<text transform="translate(109.50,267.00) rotate(-90)" font-size="16.3">Q(110)</text>
<text transform="translate(121.00,267.00) rotate(-90)" font-size="16.3">Q(102)</text>
<text transform="translate(152.20,265.40) rotate(-90)" font-size="16.3">Q(112)</text>
<text transform="translate(180.00,265.80) rotate(-90)" font-size="16.3">Q(211)</text>
<text transform="translate(203.70,272.20) rotate(-90)" font-size="16.3">Q(212)</text>
<text transform="translate(349.80,88.40) rotate(-90)" font-size="16.3">A(101)</text>
<text transform="translate(386.80,98.90) rotate(-90)" font-size="16.3">A(004)</text>
<text transform="translate(418.00,103.00) rotate(-90)" font-size="16.3">A(200)</text>
<text transform="translate(431.80,103.00) rotate(-90)" font-size="16.3">A(105)</text>
<text transform="translate(443.20,103.00) rotate(-90)" font-size="16.3">A(211)</text>
<text transform="translate(461.50,103.00) rotate(-90)" font-size="16.3">A(204)</text>
<text transform="translate(330.80,164.70) rotate(-90)" font-size="16.3">M(004)</text>
<text transform="translate(345.20,158.00) rotate(-90)" font-size="16.3">M(005)</text>
<text transform="translate(364.70,168.00) rotate(-90)" font-size="16.3">M(006)</text>
<text transform="translate(377.20,166.70) rotate(-90)" font-size="16.3">M(111)</text>
<text transform="translate(435.00,165.10) rotate(-90)" font-size="16.3">M(210)</text>
<text transform="translate(459.70,168.90) rotate(-90)" font-size="16.3">M(300)</text>
<text transform="translate(337.70,241.30) rotate(-90)" font-size="16.3">Q(100)</text>
<text transform="translate(355.30,221.70) rotate(-90)" font-size="16.3">Q(101)</text>
<text transform="translate(380.45,245.30) rotate(-90)" font-size="16.3">Q(110)</text>
<text transform="translate(395.20,249.00) rotate(-90)" font-size="16.3">Q(102)</text>
<text transform="translate(423.50,247.70) rotate(-90)" font-size="16.3">Q(112)</text>
<text transform="translate(453.00,249.20) rotate(-90)" font-size="16.3">Q(211)</text>
<text transform="translate(473.70,250.40) rotate(-90)" font-size="16.3">Q(212)</text>
<text transform="translate(486.80,249.90) rotate(-90)" font-size="16.3">Q(203)</text>
<text x="32.60" y="32.00" font-size="21.5">a</text>
<text x="303.60" y="30.80" font-size="21.5">b</text>
<text x="92.30" y="25.10" font-size="16.5">M-Montmorillonite</text>
<text x="92.30" y="46.40" font-size="16.5">A-Anatase</text>
<text x="185.20" y="46.40" font-size="16.5">Q-Quartz</text>
<text x="363.30" y="23.60" font-size="16.5">M-Montmorillonite</text>
<text x="363.30" y="44.60" font-size="16.5">A-Anatase</text>
<text x="450.80" y="44.60" font-size="16.5">Q-Quartz</text>
<text x="264.50" y="184.80" font-size="16.2" text-anchor="end">30%-TM</text>
<text x="266.00" y="258.70" font-size="16.2" text-anchor="end">40%-TM</text>
<text x="263.70" y="302.70" font-size="16.2" text-anchor="end">50%-TM</text>
<text x="263.70" y="332.60" font-size="16.2" text-anchor="end">60%-TM</text>
<text x="263.70" y="355.80" font-size="16.2" text-anchor="end">70%-TM</text>
<text x="534.90" y="189.40" font-size="16.2" text-anchor="end">pH=8-TM</text>
<text x="536.50" y="279.80" font-size="16.2" text-anchor="end">pH=6-TM</text>
<text x="536.00" y="308.70" font-size="16.2" text-anchor="end">pH=4-TM</text>
<text x="536.50" y="347.60" font-size="16.2" text-anchor="end">pH=2-TM</text>
</svg></body></html>
